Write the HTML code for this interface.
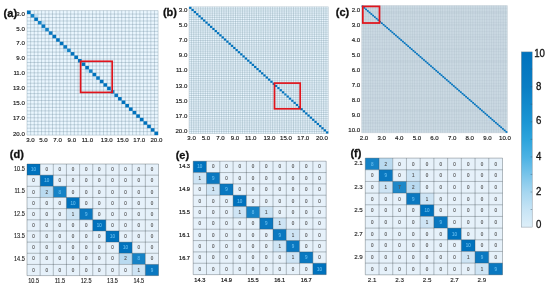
<!DOCTYPE html>
<html><head><meta charset="utf-8"><title>figure</title>
<style>html,body{margin:0;padding:0;background:#fff}svg{display:block;font-family:'Liberation Sans', Arial, sans-serif}</style>
</head><body>
<svg width="550" height="288" viewBox="0 0 550 288">
<rect width="550" height="288" fill="#fff"/>
<rect x="27.00" y="10.60" width="131.10" height="124.50" fill="#eaf6fe"/>
<path d="M27.00 10.60V135.10M30.64 10.60V135.10M34.28 10.60V135.10M37.92 10.60V135.10M41.57 10.60V135.10M45.21 10.60V135.10M48.85 10.60V135.10M52.49 10.60V135.10M56.13 10.60V135.10M59.77 10.60V135.10M63.42 10.60V135.10M67.06 10.60V135.10M70.70 10.60V135.10M74.34 10.60V135.10M77.98 10.60V135.10M81.62 10.60V135.10M85.27 10.60V135.10M88.91 10.60V135.10M92.55 10.60V135.10M96.19 10.60V135.10M99.83 10.60V135.10M103.47 10.60V135.10M107.12 10.60V135.10M110.76 10.60V135.10M114.40 10.60V135.10M118.04 10.60V135.10M121.68 10.60V135.10M125.33 10.60V135.10M128.97 10.60V135.10M132.61 10.60V135.10M136.25 10.60V135.10M139.89 10.60V135.10M143.53 10.60V135.10M147.18 10.60V135.10M150.82 10.60V135.10M154.46 10.60V135.10M158.10 10.60V135.10" stroke="rgba(85,120,140,0.35)" stroke-width="0.78" fill="none"/>
<path d="M27.00 10.60H158.10M27.00 14.06H158.10M27.00 17.52H158.10M27.00 20.98H158.10M27.00 24.43H158.10M27.00 27.89H158.10M27.00 31.35H158.10M27.00 34.81H158.10M27.00 38.27H158.10M27.00 41.73H158.10M27.00 45.18H158.10M27.00 48.64H158.10M27.00 52.10H158.10M27.00 55.56H158.10M27.00 59.02H158.10M27.00 62.48H158.10M27.00 65.93H158.10M27.00 69.39H158.10M27.00 72.85H158.10M27.00 76.31H158.10M27.00 79.77H158.10M27.00 83.22H158.10M27.00 86.68H158.10M27.00 90.14H158.10M27.00 93.60H158.10M27.00 97.06H158.10M27.00 100.52H158.10M27.00 103.97H158.10M27.00 107.43H158.10M27.00 110.89H158.10M27.00 114.35H158.10M27.00 117.81H158.10M27.00 121.27H158.10M27.00 124.72H158.10M27.00 128.18H158.10M27.00 131.64H158.10M27.00 135.10H158.10" stroke="rgba(85,120,140,0.35)" stroke-width="0.78" fill="none"/>
<rect x="34.28" y="14.06" width="3.64" height="3.46" fill="#b9daf0" fill-opacity="0.8"/>
<rect x="41.57" y="20.98" width="3.64" height="3.46" fill="#b9daf0" fill-opacity="0.8"/>
<rect x="41.57" y="27.89" width="3.64" height="3.46" fill="#b9daf0" fill-opacity="0.8"/>
<rect x="56.13" y="31.35" width="3.64" height="3.46" fill="#cee4f4" fill-opacity="0.8"/>
<rect x="63.42" y="48.64" width="3.64" height="3.46" fill="#b9daf0" fill-opacity="0.8"/>
<rect x="85.27" y="69.39" width="3.64" height="3.46" fill="#b9daf0" fill-opacity="0.8"/>
<rect x="92.55" y="76.31" width="3.64" height="3.46" fill="#cee4f4" fill-opacity="0.8"/>
<rect x="107.12" y="90.14" width="3.64" height="3.46" fill="#b9daf0" fill-opacity="0.8"/>
<rect x="110.76" y="93.60" width="3.64" height="3.46" fill="#cee4f4" fill-opacity="0.8"/>
<rect x="27.00" y="10.60" width="3.64" height="3.46" fill="#0072bd"/>
<rect x="30.64" y="14.06" width="3.64" height="3.46" fill="#1683c6"/>
<rect x="34.28" y="17.52" width="3.64" height="3.46" fill="#0072bd"/>
<rect x="37.92" y="20.98" width="3.64" height="3.46" fill="#1683c6"/>
<rect x="41.57" y="24.43" width="3.64" height="3.46" fill="#0a78c0"/>
<rect x="45.21" y="27.89" width="3.64" height="3.46" fill="#1683c6"/>
<rect x="48.85" y="31.35" width="3.64" height="3.46" fill="#0a78c0"/>
<rect x="52.49" y="34.81" width="3.64" height="3.46" fill="#0072bd"/>
<rect x="56.13" y="38.27" width="3.64" height="3.46" fill="#0072bd"/>
<rect x="59.77" y="41.73" width="3.64" height="3.46" fill="#0072bd"/>
<rect x="63.42" y="45.18" width="3.64" height="3.46" fill="#0a78c0"/>
<rect x="67.06" y="48.64" width="3.64" height="3.46" fill="#1683c6"/>
<rect x="70.70" y="52.10" width="3.64" height="3.46" fill="#0072bd"/>
<rect x="74.34" y="55.56" width="3.64" height="3.46" fill="#0072bd"/>
<rect x="77.98" y="59.02" width="3.64" height="3.46" fill="#0072bd"/>
<rect x="81.62" y="62.48" width="3.64" height="3.46" fill="#0072bd"/>
<rect x="85.27" y="65.93" width="3.64" height="3.46" fill="#0072bd"/>
<rect x="88.91" y="69.39" width="3.64" height="3.46" fill="#1683c6"/>
<rect x="92.55" y="72.85" width="3.64" height="3.46" fill="#0072bd"/>
<rect x="96.19" y="76.31" width="3.64" height="3.46" fill="#0a78c0"/>
<rect x="99.83" y="79.77" width="3.64" height="3.46" fill="#0072bd"/>
<rect x="103.47" y="83.22" width="3.64" height="3.46" fill="#0072bd"/>
<rect x="107.12" y="86.68" width="3.64" height="3.46" fill="#0072bd"/>
<rect x="110.76" y="90.14" width="3.64" height="3.46" fill="#1683c6"/>
<rect x="114.40" y="93.60" width="3.64" height="3.46" fill="#0a78c0"/>
<rect x="118.04" y="97.06" width="3.64" height="3.46" fill="#0072bd"/>
<rect x="121.68" y="100.52" width="3.64" height="3.46" fill="#0072bd"/>
<rect x="125.33" y="103.97" width="3.64" height="3.46" fill="#0072bd"/>
<rect x="128.97" y="107.43" width="3.64" height="3.46" fill="#0072bd"/>
<rect x="132.61" y="110.89" width="3.64" height="3.46" fill="#0072bd"/>
<rect x="136.25" y="114.35" width="3.64" height="3.46" fill="#0072bd"/>
<rect x="139.89" y="117.81" width="3.64" height="3.46" fill="#0072bd"/>
<rect x="143.53" y="121.27" width="3.64" height="3.46" fill="#0072bd"/>
<rect x="147.18" y="124.72" width="3.64" height="3.46" fill="#0072bd"/>
<rect x="150.82" y="128.18" width="3.64" height="3.46" fill="#0072bd"/>
<rect x="154.46" y="131.64" width="3.64" height="3.46" fill="#0072bd"/>
<rect x="80.6" y="61.3" width="31.60000000000001" height="31.10000000000001" fill="none" stroke="#e0141c" stroke-width="1.7"/>
<text x="24.80" y="16.28" font-size="6.1" text-anchor="end" fill="#1a1a1a" stroke="#1a1a1a" stroke-width="0.16">3.0</text>
<text x="24.80" y="30.58" font-size="6.1" text-anchor="end" fill="#1a1a1a" stroke="#1a1a1a" stroke-width="0.16">5.0</text>
<text x="24.80" y="45.18" font-size="6.1" text-anchor="end" fill="#1a1a1a" stroke="#1a1a1a" stroke-width="0.16">7.0</text>
<text x="24.80" y="60.18" font-size="6.1" text-anchor="end" fill="#1a1a1a" stroke="#1a1a1a" stroke-width="0.16">9.0</text>
<text x="24.80" y="75.18" font-size="6.1" text-anchor="end" fill="#1a1a1a" stroke="#1a1a1a" stroke-width="0.16">11.0</text>
<text x="24.80" y="89.98" font-size="6.1" text-anchor="end" fill="#1a1a1a" stroke="#1a1a1a" stroke-width="0.16">13.0</text>
<text x="24.80" y="105.38" font-size="6.1" text-anchor="end" fill="#1a1a1a" stroke="#1a1a1a" stroke-width="0.16">15.0</text>
<text x="24.80" y="120.18" font-size="6.1" text-anchor="end" fill="#1a1a1a" stroke="#1a1a1a" stroke-width="0.16">17.0</text>
<text x="24.80" y="135.58" font-size="6.1" text-anchor="end" fill="#1a1a1a" stroke="#1a1a1a" stroke-width="0.16">20.0</text>
<text x="30.40" y="141.88" font-size="6.1" text-anchor="middle" fill="#1a1a1a" stroke="#1a1a1a" stroke-width="0.16">3.0</text>
<text x="43.50" y="141.88" font-size="6.1" text-anchor="middle" fill="#1a1a1a" stroke="#1a1a1a" stroke-width="0.16">5.0</text>
<text x="57.60" y="141.88" font-size="6.1" text-anchor="middle" fill="#1a1a1a" stroke="#1a1a1a" stroke-width="0.16">7.0</text>
<text x="71.80" y="141.88" font-size="6.1" text-anchor="middle" fill="#1a1a1a" stroke="#1a1a1a" stroke-width="0.16">9.0</text>
<text x="87.40" y="141.88" font-size="6.1" text-anchor="middle" fill="#1a1a1a" stroke="#1a1a1a" stroke-width="0.16">11.0</text>
<text x="106.70" y="141.88" font-size="6.1" text-anchor="middle" fill="#1a1a1a" stroke="#1a1a1a" stroke-width="0.16">13.0</text>
<text x="122.80" y="141.88" font-size="6.1" text-anchor="middle" fill="#1a1a1a" stroke="#1a1a1a" stroke-width="0.16">15.0</text>
<text x="139.20" y="141.88" font-size="6.1" text-anchor="middle" fill="#1a1a1a" stroke="#1a1a1a" stroke-width="0.16">17.0</text>
<text x="156.40" y="141.88" font-size="6.1" text-anchor="middle" fill="#1a1a1a" stroke="#1a1a1a" stroke-width="0.16">20.0</text>
<rect x="189.10" y="6.80" width="139.20" height="126.70" fill="#eaf6fe"/>
<path d="M189.10 6.80V133.50M191.42 6.80V133.50M193.74 6.80V133.50M196.06 6.80V133.50M198.38 6.80V133.50M200.70 6.80V133.50M203.02 6.80V133.50M205.34 6.80V133.50M207.66 6.80V133.50M209.98 6.80V133.50M212.30 6.80V133.50M214.62 6.80V133.50M216.94 6.80V133.50M219.26 6.80V133.50M221.58 6.80V133.50M223.90 6.80V133.50M226.22 6.80V133.50M228.54 6.80V133.50M230.86 6.80V133.50M233.18 6.80V133.50M235.50 6.80V133.50M237.82 6.80V133.50M240.14 6.80V133.50M242.46 6.80V133.50M244.78 6.80V133.50M247.10 6.80V133.50M249.42 6.80V133.50M251.74 6.80V133.50M254.06 6.80V133.50M256.38 6.80V133.50M258.70 6.80V133.50M261.02 6.80V133.50M263.34 6.80V133.50M265.66 6.80V133.50M267.98 6.80V133.50M270.30 6.80V133.50M272.62 6.80V133.50M274.94 6.80V133.50M277.26 6.80V133.50M279.58 6.80V133.50M281.90 6.80V133.50M284.22 6.80V133.50M286.54 6.80V133.50M288.86 6.80V133.50M291.18 6.80V133.50M293.50 6.80V133.50M295.82 6.80V133.50M298.14 6.80V133.50M300.46 6.80V133.50M302.78 6.80V133.50M305.10 6.80V133.50M307.42 6.80V133.50M309.74 6.80V133.50M312.06 6.80V133.50M314.38 6.80V133.50M316.70 6.80V133.50M319.02 6.80V133.50M321.34 6.80V133.50M323.66 6.80V133.50M325.98 6.80V133.50M328.30 6.80V133.50" stroke="rgba(85,120,140,0.32)" stroke-width="0.75" fill="none"/>
<path d="M189.10 6.80H328.30M189.10 8.91H328.30M189.10 11.02H328.30M189.10 13.14H328.30M189.10 15.25H328.30M189.10 17.36H328.30M189.10 19.47H328.30M189.10 21.58H328.30M189.10 23.69H328.30M189.10 25.81H328.30M189.10 27.92H328.30M189.10 30.03H328.30M189.10 32.14H328.30M189.10 34.25H328.30M189.10 36.36H328.30M189.10 38.48H328.30M189.10 40.59H328.30M189.10 42.70H328.30M189.10 44.81H328.30M189.10 46.92H328.30M189.10 49.03H328.30M189.10 51.15H328.30M189.10 53.26H328.30M189.10 55.37H328.30M189.10 57.48H328.30M189.10 59.59H328.30M189.10 61.70H328.30M189.10 63.81H328.30M189.10 65.93H328.30M189.10 68.04H328.30M189.10 70.15H328.30M189.10 72.26H328.30M189.10 74.37H328.30M189.10 76.48H328.30M189.10 78.60H328.30M189.10 80.71H328.30M189.10 82.82H328.30M189.10 84.93H328.30M189.10 87.04H328.30M189.10 89.16H328.30M189.10 91.27H328.30M189.10 93.38H328.30M189.10 95.49H328.30M189.10 97.60H328.30M189.10 99.71H328.30M189.10 101.83H328.30M189.10 103.94H328.30M189.10 106.05H328.30M189.10 108.16H328.30M189.10 110.27H328.30M189.10 112.38H328.30M189.10 114.50H328.30M189.10 116.61H328.30M189.10 118.72H328.30M189.10 120.83H328.30M189.10 122.94H328.30M189.10 125.05H328.30M189.10 127.17H328.30M189.10 129.28H328.30M189.10 131.39H328.30M189.10 133.50H328.30" stroke="rgba(85,120,140,0.32)" stroke-width="0.75" fill="none"/>
<rect x="274.94" y="87.04" width="2.32" height="2.11" fill="#cee4f4" fill-opacity="0.8"/>
<rect x="277.26" y="89.16" width="2.32" height="2.11" fill="#cee4f4" fill-opacity="0.8"/>
<rect x="281.90" y="93.38" width="2.32" height="2.11" fill="#cee4f4" fill-opacity="0.8"/>
<rect x="286.54" y="93.38" width="2.32" height="2.11" fill="#cee4f4" fill-opacity="0.8"/>
<rect x="288.86" y="95.49" width="2.32" height="2.11" fill="#cee4f4" fill-opacity="0.8"/>
<rect x="291.18" y="97.60" width="2.32" height="2.11" fill="#cee4f4" fill-opacity="0.8"/>
<rect x="288.86" y="99.71" width="2.32" height="2.11" fill="#cee4f4" fill-opacity="0.8"/>
<rect x="291.18" y="101.83" width="2.32" height="2.11" fill="#cee4f4" fill-opacity="0.8"/>
<rect x="189.10" y="6.80" width="2.32" height="2.11" fill="#0072bd"/>
<rect x="191.42" y="8.91" width="2.32" height="2.11" fill="#0072bd"/>
<rect x="193.74" y="11.02" width="2.32" height="2.11" fill="#0072bd"/>
<rect x="196.06" y="13.14" width="2.32" height="2.11" fill="#0072bd"/>
<rect x="198.38" y="15.25" width="2.32" height="2.11" fill="#0072bd"/>
<rect x="200.70" y="17.36" width="2.32" height="2.11" fill="#0072bd"/>
<rect x="203.02" y="19.47" width="2.32" height="2.11" fill="#0072bd"/>
<rect x="205.34" y="21.58" width="2.32" height="2.11" fill="#0072bd"/>
<rect x="207.66" y="23.69" width="2.32" height="2.11" fill="#0072bd"/>
<rect x="209.98" y="25.81" width="2.32" height="2.11" fill="#0072bd"/>
<rect x="212.30" y="27.92" width="2.32" height="2.11" fill="#0072bd"/>
<rect x="214.62" y="30.03" width="2.32" height="2.11" fill="#0072bd"/>
<rect x="216.94" y="32.14" width="2.32" height="2.11" fill="#0072bd"/>
<rect x="219.26" y="34.25" width="2.32" height="2.11" fill="#0072bd"/>
<rect x="221.58" y="36.36" width="2.32" height="2.11" fill="#0072bd"/>
<rect x="223.90" y="38.48" width="2.32" height="2.11" fill="#0072bd"/>
<rect x="226.22" y="40.59" width="2.32" height="2.11" fill="#0072bd"/>
<rect x="228.54" y="42.70" width="2.32" height="2.11" fill="#0072bd"/>
<rect x="230.86" y="44.81" width="2.32" height="2.11" fill="#0072bd"/>
<rect x="233.18" y="46.92" width="2.32" height="2.11" fill="#0072bd"/>
<rect x="235.50" y="49.03" width="2.32" height="2.11" fill="#0072bd"/>
<rect x="237.82" y="51.15" width="2.32" height="2.11" fill="#0072bd"/>
<rect x="240.14" y="53.26" width="2.32" height="2.11" fill="#0072bd"/>
<rect x="242.46" y="55.37" width="2.32" height="2.11" fill="#0072bd"/>
<rect x="244.78" y="57.48" width="2.32" height="2.11" fill="#0072bd"/>
<rect x="247.10" y="59.59" width="2.32" height="2.11" fill="#0072bd"/>
<rect x="249.42" y="61.70" width="2.32" height="2.11" fill="#0072bd"/>
<rect x="251.74" y="63.81" width="2.32" height="2.11" fill="#0072bd"/>
<rect x="254.06" y="65.93" width="2.32" height="2.11" fill="#0072bd"/>
<rect x="256.38" y="68.04" width="2.32" height="2.11" fill="#0072bd"/>
<rect x="258.70" y="70.15" width="2.32" height="2.11" fill="#0072bd"/>
<rect x="261.02" y="72.26" width="2.32" height="2.11" fill="#0072bd"/>
<rect x="263.34" y="74.37" width="2.32" height="2.11" fill="#0072bd"/>
<rect x="265.66" y="76.48" width="2.32" height="2.11" fill="#0072bd"/>
<rect x="267.98" y="78.60" width="2.32" height="2.11" fill="#0072bd"/>
<rect x="270.30" y="80.71" width="2.32" height="2.11" fill="#0072bd"/>
<rect x="272.62" y="82.82" width="2.32" height="2.11" fill="#0072bd"/>
<rect x="274.94" y="84.93" width="2.32" height="2.11" fill="#0072bd"/>
<rect x="277.26" y="87.04" width="2.32" height="2.11" fill="#0a78c0"/>
<rect x="279.58" y="89.16" width="2.32" height="2.11" fill="#0a78c0"/>
<rect x="281.90" y="91.27" width="2.32" height="2.11" fill="#0072bd"/>
<rect x="284.22" y="93.38" width="2.32" height="2.11" fill="#1683c6"/>
<rect x="286.54" y="95.49" width="2.32" height="2.11" fill="#0a78c0"/>
<rect x="288.86" y="97.60" width="2.32" height="2.11" fill="#0a78c0"/>
<rect x="291.18" y="99.71" width="2.32" height="2.11" fill="#0a78c0"/>
<rect x="293.50" y="101.83" width="2.32" height="2.11" fill="#0a78c0"/>
<rect x="295.82" y="103.94" width="2.32" height="2.11" fill="#0072bd"/>
<rect x="298.14" y="106.05" width="2.32" height="2.11" fill="#0072bd"/>
<rect x="300.46" y="108.16" width="2.32" height="2.11" fill="#0072bd"/>
<rect x="302.78" y="110.27" width="2.32" height="2.11" fill="#0072bd"/>
<rect x="305.10" y="112.38" width="2.32" height="2.11" fill="#0072bd"/>
<rect x="307.42" y="114.50" width="2.32" height="2.11" fill="#0072bd"/>
<rect x="309.74" y="116.61" width="2.32" height="2.11" fill="#0072bd"/>
<rect x="312.06" y="118.72" width="2.32" height="2.11" fill="#0072bd"/>
<rect x="314.38" y="120.83" width="2.32" height="2.11" fill="#0072bd"/>
<rect x="316.70" y="122.94" width="2.32" height="2.11" fill="#0072bd"/>
<rect x="319.02" y="125.05" width="2.32" height="2.11" fill="#0072bd"/>
<rect x="321.34" y="127.17" width="2.32" height="2.11" fill="#0072bd"/>
<rect x="323.66" y="129.28" width="2.32" height="2.11" fill="#0072bd"/>
<rect x="325.98" y="131.39" width="2.32" height="2.11" fill="#0072bd"/>
<rect x="274.5" y="83.1" width="25.69999999999999" height="25.700000000000003" fill="none" stroke="#e0141c" stroke-width="1.7"/>
<text x="187.30" y="11.78" font-size="6.1" text-anchor="end" fill="#1a1a1a" stroke="#1a1a1a" stroke-width="0.16">3.0</text>
<text x="187.30" y="26.98" font-size="6.1" text-anchor="end" fill="#1a1a1a" stroke="#1a1a1a" stroke-width="0.16">5.0</text>
<text x="187.30" y="41.98" font-size="6.1" text-anchor="end" fill="#1a1a1a" stroke="#1a1a1a" stroke-width="0.16">7.0</text>
<text x="187.30" y="57.18" font-size="6.1" text-anchor="end" fill="#1a1a1a" stroke="#1a1a1a" stroke-width="0.16">9.0</text>
<text x="187.30" y="72.38" font-size="6.1" text-anchor="end" fill="#1a1a1a" stroke="#1a1a1a" stroke-width="0.16">11.0</text>
<text x="187.30" y="87.68" font-size="6.1" text-anchor="end" fill="#1a1a1a" stroke="#1a1a1a" stroke-width="0.16">13.0</text>
<text x="187.30" y="102.98" font-size="6.1" text-anchor="end" fill="#1a1a1a" stroke="#1a1a1a" stroke-width="0.16">15.0</text>
<text x="187.30" y="118.38" font-size="6.1" text-anchor="end" fill="#1a1a1a" stroke="#1a1a1a" stroke-width="0.16">17.0</text>
<text x="187.30" y="133.28" font-size="6.1" text-anchor="end" fill="#1a1a1a" stroke="#1a1a1a" stroke-width="0.16">20.0</text>
<text x="191.60" y="140.48" font-size="6.1" text-anchor="middle" fill="#1a1a1a" stroke="#1a1a1a" stroke-width="0.16">3.0</text>
<text x="205.90" y="140.48" font-size="6.1" text-anchor="middle" fill="#1a1a1a" stroke="#1a1a1a" stroke-width="0.16">5.0</text>
<text x="220.50" y="140.48" font-size="6.1" text-anchor="middle" fill="#1a1a1a" stroke="#1a1a1a" stroke-width="0.16">7.0</text>
<text x="235.00" y="140.48" font-size="6.1" text-anchor="middle" fill="#1a1a1a" stroke="#1a1a1a" stroke-width="0.16">9.0</text>
<text x="250.80" y="140.48" font-size="6.1" text-anchor="middle" fill="#1a1a1a" stroke="#1a1a1a" stroke-width="0.16">11.0</text>
<text x="269.40" y="140.48" font-size="6.1" text-anchor="middle" fill="#1a1a1a" stroke="#1a1a1a" stroke-width="0.16">13.0</text>
<text x="286.00" y="140.48" font-size="6.1" text-anchor="middle" fill="#1a1a1a" stroke="#1a1a1a" stroke-width="0.16">15.0</text>
<text x="303.30" y="140.48" font-size="6.1" text-anchor="middle" fill="#1a1a1a" stroke="#1a1a1a" stroke-width="0.16">17.0</text>
<text x="322.00" y="140.48" font-size="6.1" text-anchor="middle" fill="#1a1a1a" stroke="#1a1a1a" stroke-width="0.16">20.0</text>
<rect x="361.70" y="5.60" width="145.60" height="127.10" fill="#e8f4fc"/>
<path d="M361.70 5.60V132.70M363.45 5.60V132.70M365.21 5.60V132.70M366.96 5.60V132.70M368.72 5.60V132.70M370.47 5.60V132.70M372.23 5.60V132.70M373.98 5.60V132.70M375.73 5.60V132.70M377.49 5.60V132.70M379.24 5.60V132.70M381.00 5.60V132.70M382.75 5.60V132.70M384.50 5.60V132.70M386.26 5.60V132.70M388.01 5.60V132.70M389.77 5.60V132.70M391.52 5.60V132.70M393.28 5.60V132.70M395.03 5.60V132.70M396.78 5.60V132.70M398.54 5.60V132.70M400.29 5.60V132.70M402.05 5.60V132.70M403.80 5.60V132.70M405.56 5.60V132.70M407.31 5.60V132.70M409.06 5.60V132.70M410.82 5.60V132.70M412.57 5.60V132.70M414.33 5.60V132.70M416.08 5.60V132.70M417.83 5.60V132.70M419.59 5.60V132.70M421.34 5.60V132.70M423.10 5.60V132.70M424.85 5.60V132.70M426.61 5.60V132.70M428.36 5.60V132.70M430.11 5.60V132.70M431.87 5.60V132.70M433.62 5.60V132.70M435.38 5.60V132.70M437.13 5.60V132.70M438.89 5.60V132.70M440.64 5.60V132.70M442.39 5.60V132.70M444.15 5.60V132.70M445.90 5.60V132.70M447.66 5.60V132.70M449.41 5.60V132.70M451.17 5.60V132.70M452.92 5.60V132.70M454.67 5.60V132.70M456.43 5.60V132.70M458.18 5.60V132.70M459.94 5.60V132.70M461.69 5.60V132.70M463.44 5.60V132.70M465.20 5.60V132.70M466.95 5.60V132.70M468.71 5.60V132.70M470.46 5.60V132.70M472.22 5.60V132.70M473.97 5.60V132.70M475.72 5.60V132.70M477.48 5.60V132.70M479.23 5.60V132.70M480.99 5.60V132.70M482.74 5.60V132.70M484.50 5.60V132.70M486.25 5.60V132.70M488.00 5.60V132.70M489.76 5.60V132.70M491.51 5.60V132.70M493.27 5.60V132.70M495.02 5.60V132.70M496.77 5.60V132.70M498.53 5.60V132.70M500.28 5.60V132.70M502.04 5.60V132.70M503.79 5.60V132.70M505.55 5.60V132.70M507.30 5.60V132.70" stroke="rgba(100,122,140,0.18)" stroke-width="1.3" fill="none"/>
<path d="M361.70 5.60H507.30M361.70 7.13H507.30M361.70 8.66H507.30M361.70 10.19H507.30M361.70 11.73H507.30M361.70 13.26H507.30M361.70 14.79H507.30M361.70 16.32H507.30M361.70 17.85H507.30M361.70 19.38H507.30M361.70 20.91H507.30M361.70 22.44H507.30M361.70 23.98H507.30M361.70 25.51H507.30M361.70 27.04H507.30M361.70 28.57H507.30M361.70 30.10H507.30M361.70 31.63H507.30M361.70 33.16H507.30M361.70 34.70H507.30M361.70 36.23H507.30M361.70 37.76H507.30M361.70 39.29H507.30M361.70 40.82H507.30M361.70 42.35H507.30M361.70 43.88H507.30M361.70 45.41H507.30M361.70 46.95H507.30M361.70 48.48H507.30M361.70 50.01H507.30M361.70 51.54H507.30M361.70 53.07H507.30M361.70 54.60H507.30M361.70 56.13H507.30M361.70 57.67H507.30M361.70 59.20H507.30M361.70 60.73H507.30M361.70 62.26H507.30M361.70 63.79H507.30M361.70 65.32H507.30M361.70 66.85H507.30M361.70 68.38H507.30M361.70 69.92H507.30M361.70 71.45H507.30M361.70 72.98H507.30M361.70 74.51H507.30M361.70 76.04H507.30M361.70 77.57H507.30M361.70 79.10H507.30M361.70 80.63H507.30M361.70 82.17H507.30M361.70 83.70H507.30M361.70 85.23H507.30M361.70 86.76H507.30M361.70 88.29H507.30M361.70 89.82H507.30M361.70 91.35H507.30M361.70 92.89H507.30M361.70 94.42H507.30M361.70 95.95H507.30M361.70 97.48H507.30M361.70 99.01H507.30M361.70 100.54H507.30M361.70 102.07H507.30M361.70 103.60H507.30M361.70 105.14H507.30M361.70 106.67H507.30M361.70 108.20H507.30M361.70 109.73H507.30M361.70 111.26H507.30M361.70 112.79H507.30M361.70 114.32H507.30M361.70 115.86H507.30M361.70 117.39H507.30M361.70 118.92H507.30M361.70 120.45H507.30M361.70 121.98H507.30M361.70 123.51H507.30M361.70 125.04H507.30M361.70 126.57H507.30M361.70 128.11H507.30M361.70 129.64H507.30M361.70 131.17H507.30M361.70 132.70H507.30" stroke="rgba(100,122,140,0.18)" stroke-width="1.3" fill="none"/>
<rect x="410.82" y="45.41" width="1.75" height="1.53" fill="#b9daf0" fill-opacity="0.8"/>
<rect x="421.34" y="54.60" width="1.75" height="1.53" fill="#b9daf0" fill-opacity="0.8"/>
<rect x="435.38" y="66.85" width="1.75" height="1.53" fill="#b9daf0" fill-opacity="0.8"/>
<rect x="440.64" y="72.98" width="1.75" height="1.53" fill="#b9daf0" fill-opacity="0.8"/>
<rect x="488.00" y="118.92" width="1.75" height="1.53" fill="#b9daf0" fill-opacity="0.8"/>
<rect x="461.69" y="91.35" width="1.75" height="1.53" fill="#cee4f4" fill-opacity="0.8"/>
<rect x="470.46" y="102.07" width="1.75" height="1.53" fill="#cee4f4" fill-opacity="0.8"/>
<rect x="361.70" y="5.60" width="1.75" height="1.53" fill="#0072bd"/>
<rect x="363.45" y="7.13" width="1.75" height="1.53" fill="#0072bd"/>
<rect x="365.21" y="8.66" width="1.75" height="1.53" fill="#0072bd"/>
<rect x="366.96" y="10.19" width="1.75" height="1.53" fill="#0072bd"/>
<rect x="368.72" y="11.73" width="1.75" height="1.53" fill="#0072bd"/>
<rect x="370.47" y="13.26" width="1.75" height="1.53" fill="#0072bd"/>
<rect x="372.23" y="14.79" width="1.75" height="1.53" fill="#0072bd"/>
<rect x="373.98" y="16.32" width="1.75" height="1.53" fill="#0072bd"/>
<rect x="375.73" y="17.85" width="1.75" height="1.53" fill="#0072bd"/>
<rect x="377.49" y="19.38" width="1.75" height="1.53" fill="#0072bd"/>
<rect x="379.24" y="20.91" width="1.75" height="1.53" fill="#0072bd"/>
<rect x="381.00" y="22.44" width="1.75" height="1.53" fill="#0072bd"/>
<rect x="382.75" y="23.98" width="1.75" height="1.53" fill="#0072bd"/>
<rect x="384.50" y="25.51" width="1.75" height="1.53" fill="#0072bd"/>
<rect x="386.26" y="27.04" width="1.75" height="1.53" fill="#0072bd"/>
<rect x="388.01" y="28.57" width="1.75" height="1.53" fill="#0072bd"/>
<rect x="389.77" y="30.10" width="1.75" height="1.53" fill="#0072bd"/>
<rect x="391.52" y="31.63" width="1.75" height="1.53" fill="#0072bd"/>
<rect x="393.28" y="33.16" width="1.75" height="1.53" fill="#0072bd"/>
<rect x="395.03" y="34.70" width="1.75" height="1.53" fill="#0072bd"/>
<rect x="396.78" y="36.23" width="1.75" height="1.53" fill="#0072bd"/>
<rect x="398.54" y="37.76" width="1.75" height="1.53" fill="#0072bd"/>
<rect x="400.29" y="39.29" width="1.75" height="1.53" fill="#0072bd"/>
<rect x="402.05" y="40.82" width="1.75" height="1.53" fill="#0072bd"/>
<rect x="403.80" y="42.35" width="1.75" height="1.53" fill="#0072bd"/>
<rect x="405.56" y="43.88" width="1.75" height="1.53" fill="#0072bd"/>
<rect x="407.31" y="45.41" width="1.75" height="1.53" fill="#0072bd"/>
<rect x="409.06" y="46.95" width="1.75" height="1.53" fill="#0072bd"/>
<rect x="410.82" y="48.48" width="1.75" height="1.53" fill="#0072bd"/>
<rect x="412.57" y="50.01" width="1.75" height="1.53" fill="#0072bd"/>
<rect x="414.33" y="51.54" width="1.75" height="1.53" fill="#0072bd"/>
<rect x="416.08" y="53.07" width="1.75" height="1.53" fill="#0072bd"/>
<rect x="417.83" y="54.60" width="1.75" height="1.53" fill="#0072bd"/>
<rect x="419.59" y="56.13" width="1.75" height="1.53" fill="#0072bd"/>
<rect x="421.34" y="57.67" width="1.75" height="1.53" fill="#0072bd"/>
<rect x="423.10" y="59.20" width="1.75" height="1.53" fill="#0072bd"/>
<rect x="424.85" y="60.73" width="1.75" height="1.53" fill="#0072bd"/>
<rect x="426.61" y="62.26" width="1.75" height="1.53" fill="#0072bd"/>
<rect x="428.36" y="63.79" width="1.75" height="1.53" fill="#0072bd"/>
<rect x="430.11" y="65.32" width="1.75" height="1.53" fill="#0072bd"/>
<rect x="431.87" y="66.85" width="1.75" height="1.53" fill="#0072bd"/>
<rect x="433.62" y="68.38" width="1.75" height="1.53" fill="#0072bd"/>
<rect x="435.38" y="69.92" width="1.75" height="1.53" fill="#0072bd"/>
<rect x="437.13" y="71.45" width="1.75" height="1.53" fill="#0072bd"/>
<rect x="438.89" y="72.98" width="1.75" height="1.53" fill="#0072bd"/>
<rect x="440.64" y="74.51" width="1.75" height="1.53" fill="#0072bd"/>
<rect x="442.39" y="76.04" width="1.75" height="1.53" fill="#0072bd"/>
<rect x="444.15" y="77.57" width="1.75" height="1.53" fill="#0072bd"/>
<rect x="445.90" y="79.10" width="1.75" height="1.53" fill="#0072bd"/>
<rect x="447.66" y="80.63" width="1.75" height="1.53" fill="#0072bd"/>
<rect x="449.41" y="82.17" width="1.75" height="1.53" fill="#0072bd"/>
<rect x="451.17" y="83.70" width="1.75" height="1.53" fill="#0072bd"/>
<rect x="452.92" y="85.23" width="1.75" height="1.53" fill="#0072bd"/>
<rect x="454.67" y="86.76" width="1.75" height="1.53" fill="#0072bd"/>
<rect x="456.43" y="88.29" width="1.75" height="1.53" fill="#0072bd"/>
<rect x="458.18" y="89.82" width="1.75" height="1.53" fill="#0072bd"/>
<rect x="459.94" y="91.35" width="1.75" height="1.53" fill="#0072bd"/>
<rect x="461.69" y="92.89" width="1.75" height="1.53" fill="#0072bd"/>
<rect x="463.44" y="94.42" width="1.75" height="1.53" fill="#0072bd"/>
<rect x="465.20" y="95.95" width="1.75" height="1.53" fill="#0072bd"/>
<rect x="466.95" y="97.48" width="1.75" height="1.53" fill="#0072bd"/>
<rect x="468.71" y="99.01" width="1.75" height="1.53" fill="#0072bd"/>
<rect x="470.46" y="100.54" width="1.75" height="1.53" fill="#0072bd"/>
<rect x="472.22" y="102.07" width="1.75" height="1.53" fill="#0072bd"/>
<rect x="473.97" y="103.60" width="1.75" height="1.53" fill="#0072bd"/>
<rect x="475.72" y="105.14" width="1.75" height="1.53" fill="#0072bd"/>
<rect x="477.48" y="106.67" width="1.75" height="1.53" fill="#0072bd"/>
<rect x="479.23" y="108.20" width="1.75" height="1.53" fill="#0072bd"/>
<rect x="480.99" y="109.73" width="1.75" height="1.53" fill="#0072bd"/>
<rect x="482.74" y="111.26" width="1.75" height="1.53" fill="#0072bd"/>
<rect x="484.50" y="112.79" width="1.75" height="1.53" fill="#0072bd"/>
<rect x="486.25" y="114.32" width="1.75" height="1.53" fill="#0072bd"/>
<rect x="488.00" y="115.86" width="1.75" height="1.53" fill="#0072bd"/>
<rect x="489.76" y="117.39" width="1.75" height="1.53" fill="#0072bd"/>
<rect x="491.51" y="118.92" width="1.75" height="1.53" fill="#0072bd"/>
<rect x="493.27" y="120.45" width="1.75" height="1.53" fill="#0072bd"/>
<rect x="495.02" y="121.98" width="1.75" height="1.53" fill="#0072bd"/>
<rect x="496.77" y="123.51" width="1.75" height="1.53" fill="#0072bd"/>
<rect x="498.53" y="125.04" width="1.75" height="1.53" fill="#0072bd"/>
<rect x="500.28" y="126.57" width="1.75" height="1.53" fill="#0072bd"/>
<rect x="502.04" y="128.11" width="1.75" height="1.53" fill="#0072bd"/>
<rect x="503.79" y="129.64" width="1.75" height="1.53" fill="#0072bd"/>
<rect x="505.55" y="131.17" width="1.75" height="1.53" fill="#0072bd"/>
<path d="M361.70 5.60L507.30 132.70" stroke="#0072bd" stroke-width="1.2" stroke-opacity="0.4"/>
<rect x="362.8" y="6.4" width="16.69999999999999" height="16.6" fill="none" stroke="#e0141c" stroke-width="1.75"/>
<text x="360.20" y="11.68" font-size="6.1" text-anchor="end" fill="#1a1a1a" stroke="#1a1a1a" stroke-width="0.16">2.0</text>
<text x="360.20" y="26.77" font-size="6.1" text-anchor="end" fill="#1a1a1a" stroke="#1a1a1a" stroke-width="0.16">3.0</text>
<text x="360.20" y="41.86" font-size="6.1" text-anchor="end" fill="#1a1a1a" stroke="#1a1a1a" stroke-width="0.16">4.0</text>
<text x="360.20" y="56.95" font-size="6.1" text-anchor="end" fill="#1a1a1a" stroke="#1a1a1a" stroke-width="0.16">5.0</text>
<text x="360.20" y="72.04" font-size="6.1" text-anchor="end" fill="#1a1a1a" stroke="#1a1a1a" stroke-width="0.16">6.0</text>
<text x="360.20" y="87.13" font-size="6.1" text-anchor="end" fill="#1a1a1a" stroke="#1a1a1a" stroke-width="0.16">7.0</text>
<text x="360.20" y="102.22" font-size="6.1" text-anchor="end" fill="#1a1a1a" stroke="#1a1a1a" stroke-width="0.16">8.0</text>
<text x="360.20" y="117.31" font-size="6.1" text-anchor="end" fill="#1a1a1a" stroke="#1a1a1a" stroke-width="0.16">9.0</text>
<text x="360.20" y="132.40" font-size="6.1" text-anchor="end" fill="#1a1a1a" stroke="#1a1a1a" stroke-width="0.16">10.0</text>
<text x="364.00" y="140.18" font-size="6.1" text-anchor="middle" fill="#1a1a1a" stroke="#1a1a1a" stroke-width="0.16">2.0</text>
<text x="381.63" y="140.18" font-size="6.1" text-anchor="middle" fill="#1a1a1a" stroke="#1a1a1a" stroke-width="0.16">3.0</text>
<text x="399.26" y="140.18" font-size="6.1" text-anchor="middle" fill="#1a1a1a" stroke="#1a1a1a" stroke-width="0.16">4.0</text>
<text x="416.89" y="140.18" font-size="6.1" text-anchor="middle" fill="#1a1a1a" stroke="#1a1a1a" stroke-width="0.16">5.0</text>
<text x="434.52" y="140.18" font-size="6.1" text-anchor="middle" fill="#1a1a1a" stroke="#1a1a1a" stroke-width="0.16">6.0</text>
<text x="452.15" y="140.18" font-size="6.1" text-anchor="middle" fill="#1a1a1a" stroke="#1a1a1a" stroke-width="0.16">7.0</text>
<text x="469.78" y="140.18" font-size="6.1" text-anchor="middle" fill="#1a1a1a" stroke="#1a1a1a" stroke-width="0.16">8.0</text>
<text x="487.41" y="140.18" font-size="6.1" text-anchor="middle" fill="#1a1a1a" stroke="#1a1a1a" stroke-width="0.16">9.0</text>
<text x="505.04" y="140.18" font-size="6.1" text-anchor="middle" fill="#1a1a1a" stroke="#1a1a1a" stroke-width="0.16">10.0</text>
<defs><linearGradient id="cb" x1="0" y1="1" x2="0" y2="0"><stop offset="0" stop-color="rgb(222, 239, 249)"/><stop offset="0.1" stop-color="rgb(198, 228, 245)"/><stop offset="0.2" stop-color="rgb(165, 214, 240)"/><stop offset="0.3" stop-color="rgb(120, 196, 234)"/><stop offset="0.4" stop-color="rgb(75, 178, 228)"/><stop offset="0.5" stop-color="rgb(45, 164, 220)"/><stop offset="0.6" stop-color="rgb(27, 150, 212)"/><stop offset="0.7" stop-color="rgb(18, 138, 204)"/><stop offset="0.8" stop-color="rgb(10, 126, 196)"/><stop offset="1" stop-color="rgb(0, 114, 189)"/></linearGradient></defs>
<rect x="521.3" y="51.9" width="10.9" height="175.2" fill="url(#cb)" stroke="#7f8e99" stroke-width="0.45"/>
<path d="M530.6 209.5H532.2" stroke="#3d5566" stroke-width="0.45"/>
<path d="M530.6 192.0H532.2" stroke="#3d5566" stroke-width="0.45"/>
<path d="M530.6 174.4H532.2" stroke="#3d5566" stroke-width="0.45"/>
<path d="M530.6 156.9H532.2" stroke="#3d5566" stroke-width="0.45"/>
<path d="M530.6 139.3H532.2" stroke="#3d5566" stroke-width="0.45"/>
<path d="M530.6 121.8H532.2" stroke="#3d5566" stroke-width="0.45"/>
<path d="M530.6 104.2H532.2" stroke="#3d5566" stroke-width="0.45"/>
<path d="M530.6 86.7H532.2" stroke="#3d5566" stroke-width="0.45"/>
<path d="M530.6 69.1H532.2" stroke="#3d5566" stroke-width="0.45"/>
<text transform="translate(534.20 56.72) scale(0.93 1)" font-size="10.4" text-anchor="start" fill="#111" stroke="#111" stroke-width="0.3">10</text>
<text transform="translate(536.00 89.62) scale(0.93 1)" font-size="10.4" text-anchor="start" fill="#111" stroke="#111" stroke-width="0.3">8</text>
<text transform="translate(536.00 124.12) scale(0.93 1)" font-size="10.4" text-anchor="start" fill="#111" stroke="#111" stroke-width="0.3">6</text>
<text transform="translate(536.00 159.72) scale(0.93 1)" font-size="10.4" text-anchor="start" fill="#111" stroke="#111" stroke-width="0.3">4</text>
<text transform="translate(536.00 195.42) scale(0.93 1)" font-size="10.4" text-anchor="start" fill="#111" stroke="#111" stroke-width="0.3">2</text>
<text transform="translate(536.00 227.82) scale(0.93 1)" font-size="10.4" text-anchor="start" fill="#111" stroke="#111" stroke-width="0.3">0</text>
<rect x="27.00" y="164.00" width="13.20" height="11.21" fill="#0072bd"/>
<rect x="40.15" y="164.00" width="13.20" height="11.21" fill="#e6f1fa"/>
<rect x="53.30" y="164.00" width="13.20" height="11.21" fill="#e6f1fa"/>
<rect x="66.45" y="164.00" width="13.20" height="11.21" fill="#e6f1fa"/>
<rect x="79.60" y="164.00" width="13.20" height="11.21" fill="#e6f1fa"/>
<rect x="92.75" y="164.00" width="13.20" height="11.21" fill="#e6f1fa"/>
<rect x="105.90" y="164.00" width="13.20" height="11.21" fill="#e6f1fa"/>
<rect x="119.05" y="164.00" width="13.20" height="11.21" fill="#e6f1fa"/>
<rect x="132.20" y="164.00" width="13.20" height="11.21" fill="#e6f1fa"/>
<rect x="145.35" y="164.00" width="13.20" height="11.21" fill="#e6f1fa"/>
<rect x="27.00" y="175.16" width="13.20" height="11.21" fill="#e6f1fa"/>
<rect x="40.15" y="175.16" width="13.20" height="11.21" fill="#0072bd"/>
<rect x="53.30" y="175.16" width="13.20" height="11.21" fill="#e6f1fa"/>
<rect x="66.45" y="175.16" width="13.20" height="11.21" fill="#e6f1fa"/>
<rect x="79.60" y="175.16" width="13.20" height="11.21" fill="#e6f1fa"/>
<rect x="92.75" y="175.16" width="13.20" height="11.21" fill="#e6f1fa"/>
<rect x="105.90" y="175.16" width="13.20" height="11.21" fill="#e6f1fa"/>
<rect x="119.05" y="175.16" width="13.20" height="11.21" fill="#e6f1fa"/>
<rect x="132.20" y="175.16" width="13.20" height="11.21" fill="#e6f1fa"/>
<rect x="145.35" y="175.16" width="13.20" height="11.21" fill="#e6f1fa"/>
<rect x="27.00" y="186.32" width="13.20" height="11.21" fill="#e6f1fa"/>
<rect x="40.15" y="186.32" width="13.20" height="11.21" fill="#b9daf0"/>
<rect x="53.30" y="186.32" width="13.20" height="11.21" fill="#1683c6"/>
<rect x="66.45" y="186.32" width="13.20" height="11.21" fill="#e6f1fa"/>
<rect x="79.60" y="186.32" width="13.20" height="11.21" fill="#e6f1fa"/>
<rect x="92.75" y="186.32" width="13.20" height="11.21" fill="#e6f1fa"/>
<rect x="105.90" y="186.32" width="13.20" height="11.21" fill="#e6f1fa"/>
<rect x="119.05" y="186.32" width="13.20" height="11.21" fill="#e6f1fa"/>
<rect x="132.20" y="186.32" width="13.20" height="11.21" fill="#e6f1fa"/>
<rect x="145.35" y="186.32" width="13.20" height="11.21" fill="#e6f1fa"/>
<rect x="27.00" y="197.48" width="13.20" height="11.21" fill="#e6f1fa"/>
<rect x="40.15" y="197.48" width="13.20" height="11.21" fill="#e6f1fa"/>
<rect x="53.30" y="197.48" width="13.20" height="11.21" fill="#e6f1fa"/>
<rect x="66.45" y="197.48" width="13.20" height="11.21" fill="#0072bd"/>
<rect x="79.60" y="197.48" width="13.20" height="11.21" fill="#e6f1fa"/>
<rect x="92.75" y="197.48" width="13.20" height="11.21" fill="#e6f1fa"/>
<rect x="105.90" y="197.48" width="13.20" height="11.21" fill="#e6f1fa"/>
<rect x="119.05" y="197.48" width="13.20" height="11.21" fill="#e6f1fa"/>
<rect x="132.20" y="197.48" width="13.20" height="11.21" fill="#e6f1fa"/>
<rect x="145.35" y="197.48" width="13.20" height="11.21" fill="#e6f1fa"/>
<rect x="27.00" y="208.64" width="13.20" height="11.21" fill="#e6f1fa"/>
<rect x="40.15" y="208.64" width="13.20" height="11.21" fill="#e6f1fa"/>
<rect x="53.30" y="208.64" width="13.20" height="11.21" fill="#e6f1fa"/>
<rect x="66.45" y="208.64" width="13.20" height="11.21" fill="#cee4f4"/>
<rect x="79.60" y="208.64" width="13.20" height="11.21" fill="#0a78c0"/>
<rect x="92.75" y="208.64" width="13.20" height="11.21" fill="#e6f1fa"/>
<rect x="105.90" y="208.64" width="13.20" height="11.21" fill="#e6f1fa"/>
<rect x="119.05" y="208.64" width="13.20" height="11.21" fill="#e6f1fa"/>
<rect x="132.20" y="208.64" width="13.20" height="11.21" fill="#e6f1fa"/>
<rect x="145.35" y="208.64" width="13.20" height="11.21" fill="#e6f1fa"/>
<rect x="27.00" y="219.80" width="13.20" height="11.21" fill="#e6f1fa"/>
<rect x="40.15" y="219.80" width="13.20" height="11.21" fill="#e6f1fa"/>
<rect x="53.30" y="219.80" width="13.20" height="11.21" fill="#e6f1fa"/>
<rect x="66.45" y="219.80" width="13.20" height="11.21" fill="#e6f1fa"/>
<rect x="79.60" y="219.80" width="13.20" height="11.21" fill="#e6f1fa"/>
<rect x="92.75" y="219.80" width="13.20" height="11.21" fill="#0072bd"/>
<rect x="105.90" y="219.80" width="13.20" height="11.21" fill="#e6f1fa"/>
<rect x="119.05" y="219.80" width="13.20" height="11.21" fill="#e6f1fa"/>
<rect x="132.20" y="219.80" width="13.20" height="11.21" fill="#e6f1fa"/>
<rect x="145.35" y="219.80" width="13.20" height="11.21" fill="#e6f1fa"/>
<rect x="27.00" y="230.96" width="13.20" height="11.21" fill="#e6f1fa"/>
<rect x="40.15" y="230.96" width="13.20" height="11.21" fill="#e6f1fa"/>
<rect x="53.30" y="230.96" width="13.20" height="11.21" fill="#e6f1fa"/>
<rect x="66.45" y="230.96" width="13.20" height="11.21" fill="#e6f1fa"/>
<rect x="79.60" y="230.96" width="13.20" height="11.21" fill="#e6f1fa"/>
<rect x="92.75" y="230.96" width="13.20" height="11.21" fill="#e6f1fa"/>
<rect x="105.90" y="230.96" width="13.20" height="11.21" fill="#0072bd"/>
<rect x="119.05" y="230.96" width="13.20" height="11.21" fill="#e6f1fa"/>
<rect x="132.20" y="230.96" width="13.20" height="11.21" fill="#e6f1fa"/>
<rect x="145.35" y="230.96" width="13.20" height="11.21" fill="#e6f1fa"/>
<rect x="27.00" y="242.12" width="13.20" height="11.21" fill="#e6f1fa"/>
<rect x="40.15" y="242.12" width="13.20" height="11.21" fill="#e6f1fa"/>
<rect x="53.30" y="242.12" width="13.20" height="11.21" fill="#e6f1fa"/>
<rect x="66.45" y="242.12" width="13.20" height="11.21" fill="#e6f1fa"/>
<rect x="79.60" y="242.12" width="13.20" height="11.21" fill="#e6f1fa"/>
<rect x="92.75" y="242.12" width="13.20" height="11.21" fill="#e6f1fa"/>
<rect x="105.90" y="242.12" width="13.20" height="11.21" fill="#e6f1fa"/>
<rect x="119.05" y="242.12" width="13.20" height="11.21" fill="#0072bd"/>
<rect x="132.20" y="242.12" width="13.20" height="11.21" fill="#e6f1fa"/>
<rect x="145.35" y="242.12" width="13.20" height="11.21" fill="#e6f1fa"/>
<rect x="27.00" y="253.28" width="13.20" height="11.21" fill="#e6f1fa"/>
<rect x="40.15" y="253.28" width="13.20" height="11.21" fill="#e6f1fa"/>
<rect x="53.30" y="253.28" width="13.20" height="11.21" fill="#e6f1fa"/>
<rect x="66.45" y="253.28" width="13.20" height="11.21" fill="#e6f1fa"/>
<rect x="79.60" y="253.28" width="13.20" height="11.21" fill="#e6f1fa"/>
<rect x="92.75" y="253.28" width="13.20" height="11.21" fill="#e6f1fa"/>
<rect x="105.90" y="253.28" width="13.20" height="11.21" fill="#e6f1fa"/>
<rect x="119.05" y="253.28" width="13.20" height="11.21" fill="#b9daf0"/>
<rect x="132.20" y="253.28" width="13.20" height="11.21" fill="#1683c6"/>
<rect x="145.35" y="253.28" width="13.20" height="11.21" fill="#e6f1fa"/>
<rect x="27.00" y="264.44" width="13.20" height="11.21" fill="#e6f1fa"/>
<rect x="40.15" y="264.44" width="13.20" height="11.21" fill="#e6f1fa"/>
<rect x="53.30" y="264.44" width="13.20" height="11.21" fill="#e6f1fa"/>
<rect x="66.45" y="264.44" width="13.20" height="11.21" fill="#e6f1fa"/>
<rect x="79.60" y="264.44" width="13.20" height="11.21" fill="#e6f1fa"/>
<rect x="92.75" y="264.44" width="13.20" height="11.21" fill="#e6f1fa"/>
<rect x="105.90" y="264.44" width="13.20" height="11.21" fill="#e6f1fa"/>
<rect x="119.05" y="264.44" width="13.20" height="11.21" fill="#e6f1fa"/>
<rect x="132.20" y="264.44" width="13.20" height="11.21" fill="#cee4f4"/>
<rect x="145.35" y="264.44" width="13.20" height="11.21" fill="#0a78c0"/>
<path d="M27.00 164.00V275.60M27.00 164.00H158.50M40.15 164.00V275.60M27.00 175.16H158.50M53.30 164.00V275.60M27.00 186.32H158.50M66.45 164.00V275.60M27.00 197.48H158.50M79.60 164.00V275.60M27.00 208.64H158.50M92.75 164.00V275.60M27.00 219.80H158.50M105.90 164.00V275.60M27.00 230.96H158.50M119.05 164.00V275.60M27.00 242.12H158.50M132.20 164.00V275.60M27.00 253.28H158.50M145.35 164.00V275.60M27.00 264.44H158.50M158.50 164.00V275.60M27.00 275.60H158.50" stroke="#3c4852" stroke-width="0.36" fill="none"/>
<text x="33.58" y="171.19" font-size="4.5" text-anchor="middle" fill="#62baec" stroke="#62baec" stroke-width="0.12">10</text>
<text x="46.73" y="171.19" font-size="4.5" text-anchor="middle" fill="#555555" stroke="#555555" stroke-width="0.12">0</text>
<text x="59.88" y="171.19" font-size="4.5" text-anchor="middle" fill="#555555" stroke="#555555" stroke-width="0.12">0</text>
<text x="73.03" y="171.19" font-size="4.5" text-anchor="middle" fill="#555555" stroke="#555555" stroke-width="0.12">0</text>
<text x="86.18" y="171.19" font-size="4.5" text-anchor="middle" fill="#555555" stroke="#555555" stroke-width="0.12">0</text>
<text x="99.33" y="171.19" font-size="4.5" text-anchor="middle" fill="#555555" stroke="#555555" stroke-width="0.12">0</text>
<text x="112.48" y="171.19" font-size="4.5" text-anchor="middle" fill="#555555" stroke="#555555" stroke-width="0.12">0</text>
<text x="125.62" y="171.19" font-size="4.5" text-anchor="middle" fill="#555555" stroke="#555555" stroke-width="0.12">0</text>
<text x="138.78" y="171.19" font-size="4.5" text-anchor="middle" fill="#555555" stroke="#555555" stroke-width="0.12">0</text>
<text x="151.93" y="171.19" font-size="4.5" text-anchor="middle" fill="#555555" stroke="#555555" stroke-width="0.12">0</text>
<text x="33.58" y="182.35" font-size="4.5" text-anchor="middle" fill="#555555" stroke="#555555" stroke-width="0.12">0</text>
<text x="46.73" y="182.35" font-size="4.5" text-anchor="middle" fill="#62baec" stroke="#62baec" stroke-width="0.12">10</text>
<text x="59.88" y="182.35" font-size="4.5" text-anchor="middle" fill="#555555" stroke="#555555" stroke-width="0.12">0</text>
<text x="73.03" y="182.35" font-size="4.5" text-anchor="middle" fill="#555555" stroke="#555555" stroke-width="0.12">0</text>
<text x="86.18" y="182.35" font-size="4.5" text-anchor="middle" fill="#555555" stroke="#555555" stroke-width="0.12">0</text>
<text x="99.33" y="182.35" font-size="4.5" text-anchor="middle" fill="#555555" stroke="#555555" stroke-width="0.12">0</text>
<text x="112.48" y="182.35" font-size="4.5" text-anchor="middle" fill="#555555" stroke="#555555" stroke-width="0.12">0</text>
<text x="125.62" y="182.35" font-size="4.5" text-anchor="middle" fill="#555555" stroke="#555555" stroke-width="0.12">0</text>
<text x="138.78" y="182.35" font-size="4.5" text-anchor="middle" fill="#555555" stroke="#555555" stroke-width="0.12">0</text>
<text x="151.93" y="182.35" font-size="4.5" text-anchor="middle" fill="#555555" stroke="#555555" stroke-width="0.12">0</text>
<text x="33.58" y="193.51" font-size="4.5" text-anchor="middle" fill="#555555" stroke="#555555" stroke-width="0.12">0</text>
<text x="46.73" y="193.51" font-size="4.5" text-anchor="middle" fill="#555555" stroke="#555555" stroke-width="0.12">2</text>
<text x="59.88" y="193.51" font-size="4.5" text-anchor="middle" fill="#62baec" stroke="#62baec" stroke-width="0.12">8</text>
<text x="73.03" y="193.51" font-size="4.5" text-anchor="middle" fill="#555555" stroke="#555555" stroke-width="0.12">0</text>
<text x="86.18" y="193.51" font-size="4.5" text-anchor="middle" fill="#555555" stroke="#555555" stroke-width="0.12">0</text>
<text x="99.33" y="193.51" font-size="4.5" text-anchor="middle" fill="#555555" stroke="#555555" stroke-width="0.12">0</text>
<text x="112.48" y="193.51" font-size="4.5" text-anchor="middle" fill="#555555" stroke="#555555" stroke-width="0.12">0</text>
<text x="125.62" y="193.51" font-size="4.5" text-anchor="middle" fill="#555555" stroke="#555555" stroke-width="0.12">0</text>
<text x="138.78" y="193.51" font-size="4.5" text-anchor="middle" fill="#555555" stroke="#555555" stroke-width="0.12">0</text>
<text x="151.93" y="193.51" font-size="4.5" text-anchor="middle" fill="#555555" stroke="#555555" stroke-width="0.12">0</text>
<text x="33.58" y="204.67" font-size="4.5" text-anchor="middle" fill="#555555" stroke="#555555" stroke-width="0.12">0</text>
<text x="46.73" y="204.67" font-size="4.5" text-anchor="middle" fill="#555555" stroke="#555555" stroke-width="0.12">0</text>
<text x="59.88" y="204.67" font-size="4.5" text-anchor="middle" fill="#555555" stroke="#555555" stroke-width="0.12">0</text>
<text x="73.03" y="204.67" font-size="4.5" text-anchor="middle" fill="#62baec" stroke="#62baec" stroke-width="0.12">10</text>
<text x="86.18" y="204.67" font-size="4.5" text-anchor="middle" fill="#555555" stroke="#555555" stroke-width="0.12">0</text>
<text x="99.33" y="204.67" font-size="4.5" text-anchor="middle" fill="#555555" stroke="#555555" stroke-width="0.12">0</text>
<text x="112.48" y="204.67" font-size="4.5" text-anchor="middle" fill="#555555" stroke="#555555" stroke-width="0.12">0</text>
<text x="125.62" y="204.67" font-size="4.5" text-anchor="middle" fill="#555555" stroke="#555555" stroke-width="0.12">0</text>
<text x="138.78" y="204.67" font-size="4.5" text-anchor="middle" fill="#555555" stroke="#555555" stroke-width="0.12">0</text>
<text x="151.93" y="204.67" font-size="4.5" text-anchor="middle" fill="#555555" stroke="#555555" stroke-width="0.12">0</text>
<text x="33.58" y="215.83" font-size="4.5" text-anchor="middle" fill="#555555" stroke="#555555" stroke-width="0.12">0</text>
<text x="46.73" y="215.83" font-size="4.5" text-anchor="middle" fill="#555555" stroke="#555555" stroke-width="0.12">0</text>
<text x="59.88" y="215.83" font-size="4.5" text-anchor="middle" fill="#555555" stroke="#555555" stroke-width="0.12">0</text>
<text x="73.03" y="215.83" font-size="4.5" text-anchor="middle" fill="#555555" stroke="#555555" stroke-width="0.12">1</text>
<text x="86.18" y="215.83" font-size="4.5" text-anchor="middle" fill="#62baec" stroke="#62baec" stroke-width="0.12">9</text>
<text x="99.33" y="215.83" font-size="4.5" text-anchor="middle" fill="#555555" stroke="#555555" stroke-width="0.12">0</text>
<text x="112.48" y="215.83" font-size="4.5" text-anchor="middle" fill="#555555" stroke="#555555" stroke-width="0.12">0</text>
<text x="125.62" y="215.83" font-size="4.5" text-anchor="middle" fill="#555555" stroke="#555555" stroke-width="0.12">0</text>
<text x="138.78" y="215.83" font-size="4.5" text-anchor="middle" fill="#555555" stroke="#555555" stroke-width="0.12">0</text>
<text x="151.93" y="215.83" font-size="4.5" text-anchor="middle" fill="#555555" stroke="#555555" stroke-width="0.12">0</text>
<text x="33.58" y="226.99" font-size="4.5" text-anchor="middle" fill="#555555" stroke="#555555" stroke-width="0.12">0</text>
<text x="46.73" y="226.99" font-size="4.5" text-anchor="middle" fill="#555555" stroke="#555555" stroke-width="0.12">0</text>
<text x="59.88" y="226.99" font-size="4.5" text-anchor="middle" fill="#555555" stroke="#555555" stroke-width="0.12">0</text>
<text x="73.03" y="226.99" font-size="4.5" text-anchor="middle" fill="#555555" stroke="#555555" stroke-width="0.12">0</text>
<text x="86.18" y="226.99" font-size="4.5" text-anchor="middle" fill="#555555" stroke="#555555" stroke-width="0.12">0</text>
<text x="99.33" y="226.99" font-size="4.5" text-anchor="middle" fill="#62baec" stroke="#62baec" stroke-width="0.12">10</text>
<text x="112.48" y="226.99" font-size="4.5" text-anchor="middle" fill="#555555" stroke="#555555" stroke-width="0.12">0</text>
<text x="125.62" y="226.99" font-size="4.5" text-anchor="middle" fill="#555555" stroke="#555555" stroke-width="0.12">0</text>
<text x="138.78" y="226.99" font-size="4.5" text-anchor="middle" fill="#555555" stroke="#555555" stroke-width="0.12">0</text>
<text x="151.93" y="226.99" font-size="4.5" text-anchor="middle" fill="#555555" stroke="#555555" stroke-width="0.12">0</text>
<text x="33.58" y="238.15" font-size="4.5" text-anchor="middle" fill="#555555" stroke="#555555" stroke-width="0.12">0</text>
<text x="46.73" y="238.15" font-size="4.5" text-anchor="middle" fill="#555555" stroke="#555555" stroke-width="0.12">0</text>
<text x="59.88" y="238.15" font-size="4.5" text-anchor="middle" fill="#555555" stroke="#555555" stroke-width="0.12">0</text>
<text x="73.03" y="238.15" font-size="4.5" text-anchor="middle" fill="#555555" stroke="#555555" stroke-width="0.12">0</text>
<text x="86.18" y="238.15" font-size="4.5" text-anchor="middle" fill="#555555" stroke="#555555" stroke-width="0.12">0</text>
<text x="99.33" y="238.15" font-size="4.5" text-anchor="middle" fill="#555555" stroke="#555555" stroke-width="0.12">0</text>
<text x="112.48" y="238.15" font-size="4.5" text-anchor="middle" fill="#62baec" stroke="#62baec" stroke-width="0.12">10</text>
<text x="125.62" y="238.15" font-size="4.5" text-anchor="middle" fill="#555555" stroke="#555555" stroke-width="0.12">0</text>
<text x="138.78" y="238.15" font-size="4.5" text-anchor="middle" fill="#555555" stroke="#555555" stroke-width="0.12">0</text>
<text x="151.93" y="238.15" font-size="4.5" text-anchor="middle" fill="#555555" stroke="#555555" stroke-width="0.12">0</text>
<text x="33.58" y="249.31" font-size="4.5" text-anchor="middle" fill="#555555" stroke="#555555" stroke-width="0.12">0</text>
<text x="46.73" y="249.31" font-size="4.5" text-anchor="middle" fill="#555555" stroke="#555555" stroke-width="0.12">0</text>
<text x="59.88" y="249.31" font-size="4.5" text-anchor="middle" fill="#555555" stroke="#555555" stroke-width="0.12">0</text>
<text x="73.03" y="249.31" font-size="4.5" text-anchor="middle" fill="#555555" stroke="#555555" stroke-width="0.12">0</text>
<text x="86.18" y="249.31" font-size="4.5" text-anchor="middle" fill="#555555" stroke="#555555" stroke-width="0.12">0</text>
<text x="99.33" y="249.31" font-size="4.5" text-anchor="middle" fill="#555555" stroke="#555555" stroke-width="0.12">0</text>
<text x="112.48" y="249.31" font-size="4.5" text-anchor="middle" fill="#555555" stroke="#555555" stroke-width="0.12">0</text>
<text x="125.62" y="249.31" font-size="4.5" text-anchor="middle" fill="#62baec" stroke="#62baec" stroke-width="0.12">10</text>
<text x="138.78" y="249.31" font-size="4.5" text-anchor="middle" fill="#555555" stroke="#555555" stroke-width="0.12">0</text>
<text x="151.93" y="249.31" font-size="4.5" text-anchor="middle" fill="#555555" stroke="#555555" stroke-width="0.12">0</text>
<text x="33.58" y="260.47" font-size="4.5" text-anchor="middle" fill="#555555" stroke="#555555" stroke-width="0.12">0</text>
<text x="46.73" y="260.47" font-size="4.5" text-anchor="middle" fill="#555555" stroke="#555555" stroke-width="0.12">0</text>
<text x="59.88" y="260.47" font-size="4.5" text-anchor="middle" fill="#555555" stroke="#555555" stroke-width="0.12">0</text>
<text x="73.03" y="260.47" font-size="4.5" text-anchor="middle" fill="#555555" stroke="#555555" stroke-width="0.12">0</text>
<text x="86.18" y="260.47" font-size="4.5" text-anchor="middle" fill="#555555" stroke="#555555" stroke-width="0.12">0</text>
<text x="99.33" y="260.47" font-size="4.5" text-anchor="middle" fill="#555555" stroke="#555555" stroke-width="0.12">0</text>
<text x="112.48" y="260.47" font-size="4.5" text-anchor="middle" fill="#555555" stroke="#555555" stroke-width="0.12">0</text>
<text x="125.62" y="260.47" font-size="4.5" text-anchor="middle" fill="#555555" stroke="#555555" stroke-width="0.12">2</text>
<text x="138.78" y="260.47" font-size="4.5" text-anchor="middle" fill="#62baec" stroke="#62baec" stroke-width="0.12">8</text>
<text x="151.93" y="260.47" font-size="4.5" text-anchor="middle" fill="#555555" stroke="#555555" stroke-width="0.12">0</text>
<text x="33.58" y="271.63" font-size="4.5" text-anchor="middle" fill="#555555" stroke="#555555" stroke-width="0.12">0</text>
<text x="46.73" y="271.63" font-size="4.5" text-anchor="middle" fill="#555555" stroke="#555555" stroke-width="0.12">0</text>
<text x="59.88" y="271.63" font-size="4.5" text-anchor="middle" fill="#555555" stroke="#555555" stroke-width="0.12">0</text>
<text x="73.03" y="271.63" font-size="4.5" text-anchor="middle" fill="#555555" stroke="#555555" stroke-width="0.12">0</text>
<text x="86.18" y="271.63" font-size="4.5" text-anchor="middle" fill="#555555" stroke="#555555" stroke-width="0.12">0</text>
<text x="99.33" y="271.63" font-size="4.5" text-anchor="middle" fill="#555555" stroke="#555555" stroke-width="0.12">0</text>
<text x="112.48" y="271.63" font-size="4.5" text-anchor="middle" fill="#555555" stroke="#555555" stroke-width="0.12">0</text>
<text x="125.62" y="271.63" font-size="4.5" text-anchor="middle" fill="#555555" stroke="#555555" stroke-width="0.12">0</text>
<text x="138.78" y="271.63" font-size="4.5" text-anchor="middle" fill="#555555" stroke="#555555" stroke-width="0.12">1</text>
<text x="151.93" y="271.63" font-size="4.5" text-anchor="middle" fill="#62baec" stroke="#62baec" stroke-width="0.12">9</text>
<text transform="translate(24.80 170.84) scale(0.88 1)" font-size="6.3" text-anchor="end" fill="#1a1a1a" stroke="#1a1a1a" stroke-width="0.12">10.5</text>
<text transform="translate(24.80 193.38) scale(0.88 1)" font-size="6.3" text-anchor="end" fill="#1a1a1a" stroke="#1a1a1a" stroke-width="0.12">11.5</text>
<text transform="translate(24.80 215.92) scale(0.88 1)" font-size="6.3" text-anchor="end" fill="#1a1a1a" stroke="#1a1a1a" stroke-width="0.12">12.5</text>
<text transform="translate(24.80 238.46) scale(0.88 1)" font-size="6.3" text-anchor="end" fill="#1a1a1a" stroke="#1a1a1a" stroke-width="0.12">13.5</text>
<text transform="translate(24.80 261.00) scale(0.88 1)" font-size="6.3" text-anchor="end" fill="#1a1a1a" stroke="#1a1a1a" stroke-width="0.12">14.5</text>
<text transform="translate(33.58 283.26) scale(0.88 1)" font-size="6.3" text-anchor="middle" fill="#1a1a1a" stroke="#1a1a1a" stroke-width="0.12">10.5</text>
<text transform="translate(59.88 283.26) scale(0.88 1)" font-size="6.3" text-anchor="middle" fill="#1a1a1a" stroke="#1a1a1a" stroke-width="0.12">11.5</text>
<text transform="translate(86.18 283.26) scale(0.88 1)" font-size="6.3" text-anchor="middle" fill="#1a1a1a" stroke="#1a1a1a" stroke-width="0.12">12.5</text>
<text transform="translate(112.48 283.26) scale(0.88 1)" font-size="6.3" text-anchor="middle" fill="#1a1a1a" stroke="#1a1a1a" stroke-width="0.12">13.5</text>
<text transform="translate(138.78 283.26) scale(0.88 1)" font-size="6.3" text-anchor="middle" fill="#1a1a1a" stroke="#1a1a1a" stroke-width="0.12">14.5</text>
<rect x="193.20" y="161.20" width="13.35" height="11.39" fill="#0072bd"/>
<rect x="206.50" y="161.20" width="13.35" height="11.39" fill="#e6f1fa"/>
<rect x="219.80" y="161.20" width="13.35" height="11.39" fill="#e6f1fa"/>
<rect x="233.10" y="161.20" width="13.35" height="11.39" fill="#e6f1fa"/>
<rect x="246.40" y="161.20" width="13.35" height="11.39" fill="#e6f1fa"/>
<rect x="259.70" y="161.20" width="13.35" height="11.39" fill="#e6f1fa"/>
<rect x="273.00" y="161.20" width="13.35" height="11.39" fill="#e6f1fa"/>
<rect x="286.30" y="161.20" width="13.35" height="11.39" fill="#e6f1fa"/>
<rect x="299.60" y="161.20" width="13.35" height="11.39" fill="#e6f1fa"/>
<rect x="312.90" y="161.20" width="13.35" height="11.39" fill="#e6f1fa"/>
<rect x="193.20" y="172.54" width="13.35" height="11.39" fill="#cee4f4"/>
<rect x="206.50" y="172.54" width="13.35" height="11.39" fill="#0a78c0"/>
<rect x="219.80" y="172.54" width="13.35" height="11.39" fill="#e6f1fa"/>
<rect x="233.10" y="172.54" width="13.35" height="11.39" fill="#e6f1fa"/>
<rect x="246.40" y="172.54" width="13.35" height="11.39" fill="#e6f1fa"/>
<rect x="259.70" y="172.54" width="13.35" height="11.39" fill="#e6f1fa"/>
<rect x="273.00" y="172.54" width="13.35" height="11.39" fill="#e6f1fa"/>
<rect x="286.30" y="172.54" width="13.35" height="11.39" fill="#e6f1fa"/>
<rect x="299.60" y="172.54" width="13.35" height="11.39" fill="#e6f1fa"/>
<rect x="312.90" y="172.54" width="13.35" height="11.39" fill="#e6f1fa"/>
<rect x="193.20" y="183.88" width="13.35" height="11.39" fill="#e6f1fa"/>
<rect x="206.50" y="183.88" width="13.35" height="11.39" fill="#cee4f4"/>
<rect x="219.80" y="183.88" width="13.35" height="11.39" fill="#0a78c0"/>
<rect x="233.10" y="183.88" width="13.35" height="11.39" fill="#e6f1fa"/>
<rect x="246.40" y="183.88" width="13.35" height="11.39" fill="#e6f1fa"/>
<rect x="259.70" y="183.88" width="13.35" height="11.39" fill="#e6f1fa"/>
<rect x="273.00" y="183.88" width="13.35" height="11.39" fill="#e6f1fa"/>
<rect x="286.30" y="183.88" width="13.35" height="11.39" fill="#e6f1fa"/>
<rect x="299.60" y="183.88" width="13.35" height="11.39" fill="#e6f1fa"/>
<rect x="312.90" y="183.88" width="13.35" height="11.39" fill="#e6f1fa"/>
<rect x="193.20" y="195.22" width="13.35" height="11.39" fill="#e6f1fa"/>
<rect x="206.50" y="195.22" width="13.35" height="11.39" fill="#e6f1fa"/>
<rect x="219.80" y="195.22" width="13.35" height="11.39" fill="#e6f1fa"/>
<rect x="233.10" y="195.22" width="13.35" height="11.39" fill="#0072bd"/>
<rect x="246.40" y="195.22" width="13.35" height="11.39" fill="#e6f1fa"/>
<rect x="259.70" y="195.22" width="13.35" height="11.39" fill="#e6f1fa"/>
<rect x="273.00" y="195.22" width="13.35" height="11.39" fill="#e6f1fa"/>
<rect x="286.30" y="195.22" width="13.35" height="11.39" fill="#e6f1fa"/>
<rect x="299.60" y="195.22" width="13.35" height="11.39" fill="#e6f1fa"/>
<rect x="312.90" y="195.22" width="13.35" height="11.39" fill="#e6f1fa"/>
<rect x="193.20" y="206.56" width="13.35" height="11.39" fill="#e6f1fa"/>
<rect x="206.50" y="206.56" width="13.35" height="11.39" fill="#e6f1fa"/>
<rect x="219.80" y="206.56" width="13.35" height="11.39" fill="#e6f1fa"/>
<rect x="233.10" y="206.56" width="13.35" height="11.39" fill="#cee4f4"/>
<rect x="246.40" y="206.56" width="13.35" height="11.39" fill="#1683c6"/>
<rect x="259.70" y="206.56" width="13.35" height="11.39" fill="#cee4f4"/>
<rect x="273.00" y="206.56" width="13.35" height="11.39" fill="#e6f1fa"/>
<rect x="286.30" y="206.56" width="13.35" height="11.39" fill="#e6f1fa"/>
<rect x="299.60" y="206.56" width="13.35" height="11.39" fill="#e6f1fa"/>
<rect x="312.90" y="206.56" width="13.35" height="11.39" fill="#e6f1fa"/>
<rect x="193.20" y="217.90" width="13.35" height="11.39" fill="#e6f1fa"/>
<rect x="206.50" y="217.90" width="13.35" height="11.39" fill="#e6f1fa"/>
<rect x="219.80" y="217.90" width="13.35" height="11.39" fill="#e6f1fa"/>
<rect x="233.10" y="217.90" width="13.35" height="11.39" fill="#e6f1fa"/>
<rect x="246.40" y="217.90" width="13.35" height="11.39" fill="#e6f1fa"/>
<rect x="259.70" y="217.90" width="13.35" height="11.39" fill="#0a78c0"/>
<rect x="273.00" y="217.90" width="13.35" height="11.39" fill="#cee4f4"/>
<rect x="286.30" y="217.90" width="13.35" height="11.39" fill="#e6f1fa"/>
<rect x="299.60" y="217.90" width="13.35" height="11.39" fill="#e6f1fa"/>
<rect x="312.90" y="217.90" width="13.35" height="11.39" fill="#e6f1fa"/>
<rect x="193.20" y="229.24" width="13.35" height="11.39" fill="#e6f1fa"/>
<rect x="206.50" y="229.24" width="13.35" height="11.39" fill="#e6f1fa"/>
<rect x="219.80" y="229.24" width="13.35" height="11.39" fill="#e6f1fa"/>
<rect x="233.10" y="229.24" width="13.35" height="11.39" fill="#e6f1fa"/>
<rect x="246.40" y="229.24" width="13.35" height="11.39" fill="#e6f1fa"/>
<rect x="259.70" y="229.24" width="13.35" height="11.39" fill="#e6f1fa"/>
<rect x="273.00" y="229.24" width="13.35" height="11.39" fill="#0a78c0"/>
<rect x="286.30" y="229.24" width="13.35" height="11.39" fill="#cee4f4"/>
<rect x="299.60" y="229.24" width="13.35" height="11.39" fill="#e6f1fa"/>
<rect x="312.90" y="229.24" width="13.35" height="11.39" fill="#e6f1fa"/>
<rect x="193.20" y="240.58" width="13.35" height="11.39" fill="#e6f1fa"/>
<rect x="206.50" y="240.58" width="13.35" height="11.39" fill="#e6f1fa"/>
<rect x="219.80" y="240.58" width="13.35" height="11.39" fill="#e6f1fa"/>
<rect x="233.10" y="240.58" width="13.35" height="11.39" fill="#e6f1fa"/>
<rect x="246.40" y="240.58" width="13.35" height="11.39" fill="#e6f1fa"/>
<rect x="259.70" y="240.58" width="13.35" height="11.39" fill="#e6f1fa"/>
<rect x="273.00" y="240.58" width="13.35" height="11.39" fill="#cee4f4"/>
<rect x="286.30" y="240.58" width="13.35" height="11.39" fill="#0a78c0"/>
<rect x="299.60" y="240.58" width="13.35" height="11.39" fill="#e6f1fa"/>
<rect x="312.90" y="240.58" width="13.35" height="11.39" fill="#e6f1fa"/>
<rect x="193.20" y="251.92" width="13.35" height="11.39" fill="#e6f1fa"/>
<rect x="206.50" y="251.92" width="13.35" height="11.39" fill="#e6f1fa"/>
<rect x="219.80" y="251.92" width="13.35" height="11.39" fill="#e6f1fa"/>
<rect x="233.10" y="251.92" width="13.35" height="11.39" fill="#e6f1fa"/>
<rect x="246.40" y="251.92" width="13.35" height="11.39" fill="#e6f1fa"/>
<rect x="259.70" y="251.92" width="13.35" height="11.39" fill="#e6f1fa"/>
<rect x="273.00" y="251.92" width="13.35" height="11.39" fill="#e6f1fa"/>
<rect x="286.30" y="251.92" width="13.35" height="11.39" fill="#cee4f4"/>
<rect x="299.60" y="251.92" width="13.35" height="11.39" fill="#0a78c0"/>
<rect x="312.90" y="251.92" width="13.35" height="11.39" fill="#e6f1fa"/>
<rect x="193.20" y="263.26" width="13.35" height="11.39" fill="#e6f1fa"/>
<rect x="206.50" y="263.26" width="13.35" height="11.39" fill="#e6f1fa"/>
<rect x="219.80" y="263.26" width="13.35" height="11.39" fill="#e6f1fa"/>
<rect x="233.10" y="263.26" width="13.35" height="11.39" fill="#e6f1fa"/>
<rect x="246.40" y="263.26" width="13.35" height="11.39" fill="#e6f1fa"/>
<rect x="259.70" y="263.26" width="13.35" height="11.39" fill="#e6f1fa"/>
<rect x="273.00" y="263.26" width="13.35" height="11.39" fill="#e6f1fa"/>
<rect x="286.30" y="263.26" width="13.35" height="11.39" fill="#e6f1fa"/>
<rect x="299.60" y="263.26" width="13.35" height="11.39" fill="#e6f1fa"/>
<rect x="312.90" y="263.26" width="13.35" height="11.39" fill="#0072bd"/>
<path d="M193.20 161.20V274.60M193.20 161.20H326.20M206.50 161.20V274.60M193.20 172.54H326.20M219.80 161.20V274.60M193.20 183.88H326.20M233.10 161.20V274.60M193.20 195.22H326.20M246.40 161.20V274.60M193.20 206.56H326.20M259.70 161.20V274.60M193.20 217.90H326.20M273.00 161.20V274.60M193.20 229.24H326.20M286.30 161.20V274.60M193.20 240.58H326.20M299.60 161.20V274.60M193.20 251.92H326.20M312.90 161.20V274.60M193.20 263.26H326.20M326.20 161.20V274.60M193.20 274.60H326.20" stroke="#3c4852" stroke-width="0.36" fill="none"/>
<text x="199.85" y="168.48" font-size="4.5" text-anchor="middle" fill="#62baec" stroke="#62baec" stroke-width="0.12">10</text>
<text x="213.15" y="168.48" font-size="4.5" text-anchor="middle" fill="#555555" stroke="#555555" stroke-width="0.12">0</text>
<text x="226.45" y="168.48" font-size="4.5" text-anchor="middle" fill="#555555" stroke="#555555" stroke-width="0.12">0</text>
<text x="239.75" y="168.48" font-size="4.5" text-anchor="middle" fill="#555555" stroke="#555555" stroke-width="0.12">0</text>
<text x="253.05" y="168.48" font-size="4.5" text-anchor="middle" fill="#555555" stroke="#555555" stroke-width="0.12">0</text>
<text x="266.35" y="168.48" font-size="4.5" text-anchor="middle" fill="#555555" stroke="#555555" stroke-width="0.12">0</text>
<text x="279.65" y="168.48" font-size="4.5" text-anchor="middle" fill="#555555" stroke="#555555" stroke-width="0.12">0</text>
<text x="292.95" y="168.48" font-size="4.5" text-anchor="middle" fill="#555555" stroke="#555555" stroke-width="0.12">0</text>
<text x="306.25" y="168.48" font-size="4.5" text-anchor="middle" fill="#555555" stroke="#555555" stroke-width="0.12">0</text>
<text x="319.55" y="168.48" font-size="4.5" text-anchor="middle" fill="#555555" stroke="#555555" stroke-width="0.12">0</text>
<text x="199.85" y="179.82" font-size="4.5" text-anchor="middle" fill="#555555" stroke="#555555" stroke-width="0.12">1</text>
<text x="213.15" y="179.82" font-size="4.5" text-anchor="middle" fill="#62baec" stroke="#62baec" stroke-width="0.12">9</text>
<text x="226.45" y="179.82" font-size="4.5" text-anchor="middle" fill="#555555" stroke="#555555" stroke-width="0.12">0</text>
<text x="239.75" y="179.82" font-size="4.5" text-anchor="middle" fill="#555555" stroke="#555555" stroke-width="0.12">0</text>
<text x="253.05" y="179.82" font-size="4.5" text-anchor="middle" fill="#555555" stroke="#555555" stroke-width="0.12">0</text>
<text x="266.35" y="179.82" font-size="4.5" text-anchor="middle" fill="#555555" stroke="#555555" stroke-width="0.12">0</text>
<text x="279.65" y="179.82" font-size="4.5" text-anchor="middle" fill="#555555" stroke="#555555" stroke-width="0.12">0</text>
<text x="292.95" y="179.82" font-size="4.5" text-anchor="middle" fill="#555555" stroke="#555555" stroke-width="0.12">0</text>
<text x="306.25" y="179.82" font-size="4.5" text-anchor="middle" fill="#555555" stroke="#555555" stroke-width="0.12">0</text>
<text x="319.55" y="179.82" font-size="4.5" text-anchor="middle" fill="#555555" stroke="#555555" stroke-width="0.12">0</text>
<text x="199.85" y="191.16" font-size="4.5" text-anchor="middle" fill="#555555" stroke="#555555" stroke-width="0.12">0</text>
<text x="213.15" y="191.16" font-size="4.5" text-anchor="middle" fill="#555555" stroke="#555555" stroke-width="0.12">1</text>
<text x="226.45" y="191.16" font-size="4.5" text-anchor="middle" fill="#62baec" stroke="#62baec" stroke-width="0.12">9</text>
<text x="239.75" y="191.16" font-size="4.5" text-anchor="middle" fill="#555555" stroke="#555555" stroke-width="0.12">0</text>
<text x="253.05" y="191.16" font-size="4.5" text-anchor="middle" fill="#555555" stroke="#555555" stroke-width="0.12">0</text>
<text x="266.35" y="191.16" font-size="4.5" text-anchor="middle" fill="#555555" stroke="#555555" stroke-width="0.12">0</text>
<text x="279.65" y="191.16" font-size="4.5" text-anchor="middle" fill="#555555" stroke="#555555" stroke-width="0.12">0</text>
<text x="292.95" y="191.16" font-size="4.5" text-anchor="middle" fill="#555555" stroke="#555555" stroke-width="0.12">0</text>
<text x="306.25" y="191.16" font-size="4.5" text-anchor="middle" fill="#555555" stroke="#555555" stroke-width="0.12">0</text>
<text x="319.55" y="191.16" font-size="4.5" text-anchor="middle" fill="#555555" stroke="#555555" stroke-width="0.12">0</text>
<text x="199.85" y="202.50" font-size="4.5" text-anchor="middle" fill="#555555" stroke="#555555" stroke-width="0.12">0</text>
<text x="213.15" y="202.50" font-size="4.5" text-anchor="middle" fill="#555555" stroke="#555555" stroke-width="0.12">0</text>
<text x="226.45" y="202.50" font-size="4.5" text-anchor="middle" fill="#555555" stroke="#555555" stroke-width="0.12">0</text>
<text x="239.75" y="202.50" font-size="4.5" text-anchor="middle" fill="#62baec" stroke="#62baec" stroke-width="0.12">10</text>
<text x="253.05" y="202.50" font-size="4.5" text-anchor="middle" fill="#555555" stroke="#555555" stroke-width="0.12">0</text>
<text x="266.35" y="202.50" font-size="4.5" text-anchor="middle" fill="#555555" stroke="#555555" stroke-width="0.12">0</text>
<text x="279.65" y="202.50" font-size="4.5" text-anchor="middle" fill="#555555" stroke="#555555" stroke-width="0.12">0</text>
<text x="292.95" y="202.50" font-size="4.5" text-anchor="middle" fill="#555555" stroke="#555555" stroke-width="0.12">0</text>
<text x="306.25" y="202.50" font-size="4.5" text-anchor="middle" fill="#555555" stroke="#555555" stroke-width="0.12">0</text>
<text x="319.55" y="202.50" font-size="4.5" text-anchor="middle" fill="#555555" stroke="#555555" stroke-width="0.12">0</text>
<text x="199.85" y="213.84" font-size="4.5" text-anchor="middle" fill="#555555" stroke="#555555" stroke-width="0.12">0</text>
<text x="213.15" y="213.84" font-size="4.5" text-anchor="middle" fill="#555555" stroke="#555555" stroke-width="0.12">0</text>
<text x="226.45" y="213.84" font-size="4.5" text-anchor="middle" fill="#555555" stroke="#555555" stroke-width="0.12">0</text>
<text x="239.75" y="213.84" font-size="4.5" text-anchor="middle" fill="#555555" stroke="#555555" stroke-width="0.12">1</text>
<text x="253.05" y="213.84" font-size="4.5" text-anchor="middle" fill="#62baec" stroke="#62baec" stroke-width="0.12">8</text>
<text x="266.35" y="213.84" font-size="4.5" text-anchor="middle" fill="#555555" stroke="#555555" stroke-width="0.12">1</text>
<text x="279.65" y="213.84" font-size="4.5" text-anchor="middle" fill="#555555" stroke="#555555" stroke-width="0.12">0</text>
<text x="292.95" y="213.84" font-size="4.5" text-anchor="middle" fill="#555555" stroke="#555555" stroke-width="0.12">0</text>
<text x="306.25" y="213.84" font-size="4.5" text-anchor="middle" fill="#555555" stroke="#555555" stroke-width="0.12">0</text>
<text x="319.55" y="213.84" font-size="4.5" text-anchor="middle" fill="#555555" stroke="#555555" stroke-width="0.12">0</text>
<text x="199.85" y="225.18" font-size="4.5" text-anchor="middle" fill="#555555" stroke="#555555" stroke-width="0.12">0</text>
<text x="213.15" y="225.18" font-size="4.5" text-anchor="middle" fill="#555555" stroke="#555555" stroke-width="0.12">0</text>
<text x="226.45" y="225.18" font-size="4.5" text-anchor="middle" fill="#555555" stroke="#555555" stroke-width="0.12">0</text>
<text x="239.75" y="225.18" font-size="4.5" text-anchor="middle" fill="#555555" stroke="#555555" stroke-width="0.12">0</text>
<text x="253.05" y="225.18" font-size="4.5" text-anchor="middle" fill="#555555" stroke="#555555" stroke-width="0.12">0</text>
<text x="266.35" y="225.18" font-size="4.5" text-anchor="middle" fill="#62baec" stroke="#62baec" stroke-width="0.12">9</text>
<text x="279.65" y="225.18" font-size="4.5" text-anchor="middle" fill="#555555" stroke="#555555" stroke-width="0.12">1</text>
<text x="292.95" y="225.18" font-size="4.5" text-anchor="middle" fill="#555555" stroke="#555555" stroke-width="0.12">0</text>
<text x="306.25" y="225.18" font-size="4.5" text-anchor="middle" fill="#555555" stroke="#555555" stroke-width="0.12">0</text>
<text x="319.55" y="225.18" font-size="4.5" text-anchor="middle" fill="#555555" stroke="#555555" stroke-width="0.12">0</text>
<text x="199.85" y="236.52" font-size="4.5" text-anchor="middle" fill="#555555" stroke="#555555" stroke-width="0.12">0</text>
<text x="213.15" y="236.52" font-size="4.5" text-anchor="middle" fill="#555555" stroke="#555555" stroke-width="0.12">0</text>
<text x="226.45" y="236.52" font-size="4.5" text-anchor="middle" fill="#555555" stroke="#555555" stroke-width="0.12">0</text>
<text x="239.75" y="236.52" font-size="4.5" text-anchor="middle" fill="#555555" stroke="#555555" stroke-width="0.12">0</text>
<text x="253.05" y="236.52" font-size="4.5" text-anchor="middle" fill="#555555" stroke="#555555" stroke-width="0.12">0</text>
<text x="266.35" y="236.52" font-size="4.5" text-anchor="middle" fill="#555555" stroke="#555555" stroke-width="0.12">0</text>
<text x="279.65" y="236.52" font-size="4.5" text-anchor="middle" fill="#62baec" stroke="#62baec" stroke-width="0.12">9</text>
<text x="292.95" y="236.52" font-size="4.5" text-anchor="middle" fill="#555555" stroke="#555555" stroke-width="0.12">1</text>
<text x="306.25" y="236.52" font-size="4.5" text-anchor="middle" fill="#555555" stroke="#555555" stroke-width="0.12">0</text>
<text x="319.55" y="236.52" font-size="4.5" text-anchor="middle" fill="#555555" stroke="#555555" stroke-width="0.12">0</text>
<text x="199.85" y="247.86" font-size="4.5" text-anchor="middle" fill="#555555" stroke="#555555" stroke-width="0.12">0</text>
<text x="213.15" y="247.86" font-size="4.5" text-anchor="middle" fill="#555555" stroke="#555555" stroke-width="0.12">0</text>
<text x="226.45" y="247.86" font-size="4.5" text-anchor="middle" fill="#555555" stroke="#555555" stroke-width="0.12">0</text>
<text x="239.75" y="247.86" font-size="4.5" text-anchor="middle" fill="#555555" stroke="#555555" stroke-width="0.12">0</text>
<text x="253.05" y="247.86" font-size="4.5" text-anchor="middle" fill="#555555" stroke="#555555" stroke-width="0.12">0</text>
<text x="266.35" y="247.86" font-size="4.5" text-anchor="middle" fill="#555555" stroke="#555555" stroke-width="0.12">0</text>
<text x="279.65" y="247.86" font-size="4.5" text-anchor="middle" fill="#555555" stroke="#555555" stroke-width="0.12">1</text>
<text x="292.95" y="247.86" font-size="4.5" text-anchor="middle" fill="#62baec" stroke="#62baec" stroke-width="0.12">9</text>
<text x="306.25" y="247.86" font-size="4.5" text-anchor="middle" fill="#555555" stroke="#555555" stroke-width="0.12">0</text>
<text x="319.55" y="247.86" font-size="4.5" text-anchor="middle" fill="#555555" stroke="#555555" stroke-width="0.12">0</text>
<text x="199.85" y="259.20" font-size="4.5" text-anchor="middle" fill="#555555" stroke="#555555" stroke-width="0.12">0</text>
<text x="213.15" y="259.20" font-size="4.5" text-anchor="middle" fill="#555555" stroke="#555555" stroke-width="0.12">0</text>
<text x="226.45" y="259.20" font-size="4.5" text-anchor="middle" fill="#555555" stroke="#555555" stroke-width="0.12">0</text>
<text x="239.75" y="259.20" font-size="4.5" text-anchor="middle" fill="#555555" stroke="#555555" stroke-width="0.12">0</text>
<text x="253.05" y="259.20" font-size="4.5" text-anchor="middle" fill="#555555" stroke="#555555" stroke-width="0.12">0</text>
<text x="266.35" y="259.20" font-size="4.5" text-anchor="middle" fill="#555555" stroke="#555555" stroke-width="0.12">0</text>
<text x="279.65" y="259.20" font-size="4.5" text-anchor="middle" fill="#555555" stroke="#555555" stroke-width="0.12">0</text>
<text x="292.95" y="259.20" font-size="4.5" text-anchor="middle" fill="#555555" stroke="#555555" stroke-width="0.12">1</text>
<text x="306.25" y="259.20" font-size="4.5" text-anchor="middle" fill="#62baec" stroke="#62baec" stroke-width="0.12">9</text>
<text x="319.55" y="259.20" font-size="4.5" text-anchor="middle" fill="#555555" stroke="#555555" stroke-width="0.12">0</text>
<text x="199.85" y="270.54" font-size="4.5" text-anchor="middle" fill="#555555" stroke="#555555" stroke-width="0.12">0</text>
<text x="213.15" y="270.54" font-size="4.5" text-anchor="middle" fill="#555555" stroke="#555555" stroke-width="0.12">0</text>
<text x="226.45" y="270.54" font-size="4.5" text-anchor="middle" fill="#555555" stroke="#555555" stroke-width="0.12">0</text>
<text x="239.75" y="270.54" font-size="4.5" text-anchor="middle" fill="#555555" stroke="#555555" stroke-width="0.12">0</text>
<text x="253.05" y="270.54" font-size="4.5" text-anchor="middle" fill="#555555" stroke="#555555" stroke-width="0.12">0</text>
<text x="266.35" y="270.54" font-size="4.5" text-anchor="middle" fill="#555555" stroke="#555555" stroke-width="0.12">0</text>
<text x="279.65" y="270.54" font-size="4.5" text-anchor="middle" fill="#555555" stroke="#555555" stroke-width="0.12">0</text>
<text x="292.95" y="270.54" font-size="4.5" text-anchor="middle" fill="#555555" stroke="#555555" stroke-width="0.12">0</text>
<text x="306.25" y="270.54" font-size="4.5" text-anchor="middle" fill="#555555" stroke="#555555" stroke-width="0.12">0</text>
<text x="319.55" y="270.54" font-size="4.5" text-anchor="middle" fill="#62baec" stroke="#62baec" stroke-width="0.12">10</text>
<text x="190.00" y="167.94" font-size="5.65" text-anchor="end" fill="#1a1a1a" stroke="#1a1a1a" stroke-width="0.2">14.3</text>
<text x="190.00" y="190.84" font-size="5.65" text-anchor="end" fill="#1a1a1a" stroke="#1a1a1a" stroke-width="0.2">14.9</text>
<text x="190.00" y="213.74" font-size="5.65" text-anchor="end" fill="#1a1a1a" stroke="#1a1a1a" stroke-width="0.2">15.5</text>
<text x="190.00" y="236.64" font-size="5.65" text-anchor="end" fill="#1a1a1a" stroke="#1a1a1a" stroke-width="0.2">16.1</text>
<text x="190.00" y="259.54" font-size="5.65" text-anchor="end" fill="#1a1a1a" stroke="#1a1a1a" stroke-width="0.2">16.7</text>
<text x="199.85" y="282.02" font-size="5.65" text-anchor="middle" fill="#1a1a1a" stroke="#1a1a1a" stroke-width="0.2">14.3</text>
<text x="226.45" y="282.02" font-size="5.65" text-anchor="middle" fill="#1a1a1a" stroke="#1a1a1a" stroke-width="0.2">14.9</text>
<text x="253.05" y="282.02" font-size="5.65" text-anchor="middle" fill="#1a1a1a" stroke="#1a1a1a" stroke-width="0.2">15.5</text>
<text x="279.65" y="282.02" font-size="5.65" text-anchor="middle" fill="#1a1a1a" stroke="#1a1a1a" stroke-width="0.2">16.1</text>
<text x="306.25" y="282.02" font-size="5.65" text-anchor="middle" fill="#1a1a1a" stroke="#1a1a1a" stroke-width="0.2">16.7</text>
<rect x="365.30" y="158.10" width="13.77" height="11.72" fill="#1683c6"/>
<rect x="379.02" y="158.10" width="13.77" height="11.72" fill="#b9daf0"/>
<rect x="392.74" y="158.10" width="13.77" height="11.72" fill="#e6f1fa"/>
<rect x="406.46" y="158.10" width="13.77" height="11.72" fill="#e6f1fa"/>
<rect x="420.18" y="158.10" width="13.77" height="11.72" fill="#e6f1fa"/>
<rect x="433.90" y="158.10" width="13.77" height="11.72" fill="#e6f1fa"/>
<rect x="447.62" y="158.10" width="13.77" height="11.72" fill="#e6f1fa"/>
<rect x="461.34" y="158.10" width="13.77" height="11.72" fill="#e6f1fa"/>
<rect x="475.06" y="158.10" width="13.77" height="11.72" fill="#e6f1fa"/>
<rect x="488.78" y="158.10" width="13.77" height="11.72" fill="#e6f1fa"/>
<rect x="365.30" y="169.77" width="13.77" height="11.72" fill="#e6f1fa"/>
<rect x="379.02" y="169.77" width="13.77" height="11.72" fill="#0a78c0"/>
<rect x="392.74" y="169.77" width="13.77" height="11.72" fill="#e6f1fa"/>
<rect x="406.46" y="169.77" width="13.77" height="11.72" fill="#cee4f4"/>
<rect x="420.18" y="169.77" width="13.77" height="11.72" fill="#e6f1fa"/>
<rect x="433.90" y="169.77" width="13.77" height="11.72" fill="#e6f1fa"/>
<rect x="447.62" y="169.77" width="13.77" height="11.72" fill="#e6f1fa"/>
<rect x="461.34" y="169.77" width="13.77" height="11.72" fill="#e6f1fa"/>
<rect x="475.06" y="169.77" width="13.77" height="11.72" fill="#e6f1fa"/>
<rect x="488.78" y="169.77" width="13.77" height="11.72" fill="#e6f1fa"/>
<rect x="365.30" y="181.44" width="13.77" height="11.72" fill="#e6f1fa"/>
<rect x="379.02" y="181.44" width="13.77" height="11.72" fill="#cee4f4"/>
<rect x="392.74" y="181.44" width="13.77" height="11.72" fill="#1e88c8"/>
<rect x="406.46" y="181.44" width="13.77" height="11.72" fill="#b9daf0"/>
<rect x="420.18" y="181.44" width="13.77" height="11.72" fill="#e6f1fa"/>
<rect x="433.90" y="181.44" width="13.77" height="11.72" fill="#e6f1fa"/>
<rect x="447.62" y="181.44" width="13.77" height="11.72" fill="#e6f1fa"/>
<rect x="461.34" y="181.44" width="13.77" height="11.72" fill="#e6f1fa"/>
<rect x="475.06" y="181.44" width="13.77" height="11.72" fill="#e6f1fa"/>
<rect x="488.78" y="181.44" width="13.77" height="11.72" fill="#e6f1fa"/>
<rect x="365.30" y="193.11" width="13.77" height="11.72" fill="#e6f1fa"/>
<rect x="379.02" y="193.11" width="13.77" height="11.72" fill="#e6f1fa"/>
<rect x="392.74" y="193.11" width="13.77" height="11.72" fill="#e6f1fa"/>
<rect x="406.46" y="193.11" width="13.77" height="11.72" fill="#0a78c0"/>
<rect x="420.18" y="193.11" width="13.77" height="11.72" fill="#cee4f4"/>
<rect x="433.90" y="193.11" width="13.77" height="11.72" fill="#e6f1fa"/>
<rect x="447.62" y="193.11" width="13.77" height="11.72" fill="#e6f1fa"/>
<rect x="461.34" y="193.11" width="13.77" height="11.72" fill="#e6f1fa"/>
<rect x="475.06" y="193.11" width="13.77" height="11.72" fill="#e6f1fa"/>
<rect x="488.78" y="193.11" width="13.77" height="11.72" fill="#e6f1fa"/>
<rect x="365.30" y="204.78" width="13.77" height="11.72" fill="#e6f1fa"/>
<rect x="379.02" y="204.78" width="13.77" height="11.72" fill="#e6f1fa"/>
<rect x="392.74" y="204.78" width="13.77" height="11.72" fill="#e6f1fa"/>
<rect x="406.46" y="204.78" width="13.77" height="11.72" fill="#e6f1fa"/>
<rect x="420.18" y="204.78" width="13.77" height="11.72" fill="#0072bd"/>
<rect x="433.90" y="204.78" width="13.77" height="11.72" fill="#e6f1fa"/>
<rect x="447.62" y="204.78" width="13.77" height="11.72" fill="#e6f1fa"/>
<rect x="461.34" y="204.78" width="13.77" height="11.72" fill="#e6f1fa"/>
<rect x="475.06" y="204.78" width="13.77" height="11.72" fill="#e6f1fa"/>
<rect x="488.78" y="204.78" width="13.77" height="11.72" fill="#e6f1fa"/>
<rect x="365.30" y="216.45" width="13.77" height="11.72" fill="#e6f1fa"/>
<rect x="379.02" y="216.45" width="13.77" height="11.72" fill="#e6f1fa"/>
<rect x="392.74" y="216.45" width="13.77" height="11.72" fill="#e6f1fa"/>
<rect x="406.46" y="216.45" width="13.77" height="11.72" fill="#e6f1fa"/>
<rect x="420.18" y="216.45" width="13.77" height="11.72" fill="#cee4f4"/>
<rect x="433.90" y="216.45" width="13.77" height="11.72" fill="#0a78c0"/>
<rect x="447.62" y="216.45" width="13.77" height="11.72" fill="#e6f1fa"/>
<rect x="461.34" y="216.45" width="13.77" height="11.72" fill="#e6f1fa"/>
<rect x="475.06" y="216.45" width="13.77" height="11.72" fill="#e6f1fa"/>
<rect x="488.78" y="216.45" width="13.77" height="11.72" fill="#e6f1fa"/>
<rect x="365.30" y="228.12" width="13.77" height="11.72" fill="#e6f1fa"/>
<rect x="379.02" y="228.12" width="13.77" height="11.72" fill="#e6f1fa"/>
<rect x="392.74" y="228.12" width="13.77" height="11.72" fill="#e6f1fa"/>
<rect x="406.46" y="228.12" width="13.77" height="11.72" fill="#e6f1fa"/>
<rect x="420.18" y="228.12" width="13.77" height="11.72" fill="#e6f1fa"/>
<rect x="433.90" y="228.12" width="13.77" height="11.72" fill="#e6f1fa"/>
<rect x="447.62" y="228.12" width="13.77" height="11.72" fill="#0072bd"/>
<rect x="461.34" y="228.12" width="13.77" height="11.72" fill="#e6f1fa"/>
<rect x="475.06" y="228.12" width="13.77" height="11.72" fill="#e6f1fa"/>
<rect x="488.78" y="228.12" width="13.77" height="11.72" fill="#e6f1fa"/>
<rect x="365.30" y="239.79" width="13.77" height="11.72" fill="#e6f1fa"/>
<rect x="379.02" y="239.79" width="13.77" height="11.72" fill="#e6f1fa"/>
<rect x="392.74" y="239.79" width="13.77" height="11.72" fill="#e6f1fa"/>
<rect x="406.46" y="239.79" width="13.77" height="11.72" fill="#e6f1fa"/>
<rect x="420.18" y="239.79" width="13.77" height="11.72" fill="#e6f1fa"/>
<rect x="433.90" y="239.79" width="13.77" height="11.72" fill="#e6f1fa"/>
<rect x="447.62" y="239.79" width="13.77" height="11.72" fill="#e6f1fa"/>
<rect x="461.34" y="239.79" width="13.77" height="11.72" fill="#0072bd"/>
<rect x="475.06" y="239.79" width="13.77" height="11.72" fill="#e6f1fa"/>
<rect x="488.78" y="239.79" width="13.77" height="11.72" fill="#e6f1fa"/>
<rect x="365.30" y="251.46" width="13.77" height="11.72" fill="#e6f1fa"/>
<rect x="379.02" y="251.46" width="13.77" height="11.72" fill="#e6f1fa"/>
<rect x="392.74" y="251.46" width="13.77" height="11.72" fill="#e6f1fa"/>
<rect x="406.46" y="251.46" width="13.77" height="11.72" fill="#e6f1fa"/>
<rect x="420.18" y="251.46" width="13.77" height="11.72" fill="#e6f1fa"/>
<rect x="433.90" y="251.46" width="13.77" height="11.72" fill="#e6f1fa"/>
<rect x="447.62" y="251.46" width="13.77" height="11.72" fill="#e6f1fa"/>
<rect x="461.34" y="251.46" width="13.77" height="11.72" fill="#cee4f4"/>
<rect x="475.06" y="251.46" width="13.77" height="11.72" fill="#0a78c0"/>
<rect x="488.78" y="251.46" width="13.77" height="11.72" fill="#e6f1fa"/>
<rect x="365.30" y="263.13" width="13.77" height="11.72" fill="#e6f1fa"/>
<rect x="379.02" y="263.13" width="13.77" height="11.72" fill="#e6f1fa"/>
<rect x="392.74" y="263.13" width="13.77" height="11.72" fill="#e6f1fa"/>
<rect x="406.46" y="263.13" width="13.77" height="11.72" fill="#e6f1fa"/>
<rect x="420.18" y="263.13" width="13.77" height="11.72" fill="#e6f1fa"/>
<rect x="433.90" y="263.13" width="13.77" height="11.72" fill="#e6f1fa"/>
<rect x="447.62" y="263.13" width="13.77" height="11.72" fill="#e6f1fa"/>
<rect x="461.34" y="263.13" width="13.77" height="11.72" fill="#e6f1fa"/>
<rect x="475.06" y="263.13" width="13.77" height="11.72" fill="#cee4f4"/>
<rect x="488.78" y="263.13" width="13.77" height="11.72" fill="#0a78c0"/>
<path d="M365.30 158.10V274.80M365.30 158.10H502.50M379.02 158.10V274.80M365.30 169.77H502.50M392.74 158.10V274.80M365.30 181.44H502.50M406.46 158.10V274.80M365.30 193.11H502.50M420.18 158.10V274.80M365.30 204.78H502.50M433.90 158.10V274.80M365.30 216.45H502.50M447.62 158.10V274.80M365.30 228.12H502.50M461.34 158.10V274.80M365.30 239.79H502.50M475.06 158.10V274.80M365.30 251.46H502.50M488.78 158.10V274.80M365.30 263.13H502.50M502.50 158.10V274.80M365.30 274.80H502.50" stroke="#3c4852" stroke-width="0.36" fill="none"/>
<text x="372.16" y="165.55" font-size="4.5" text-anchor="middle" fill="#62baec" stroke="#62baec" stroke-width="0.12">8</text>
<text x="385.88" y="165.55" font-size="4.5" text-anchor="middle" fill="#555555" stroke="#555555" stroke-width="0.12">2</text>
<text x="399.60" y="165.55" font-size="4.5" text-anchor="middle" fill="#555555" stroke="#555555" stroke-width="0.12">0</text>
<text x="413.32" y="165.55" font-size="4.5" text-anchor="middle" fill="#555555" stroke="#555555" stroke-width="0.12">0</text>
<text x="427.04" y="165.55" font-size="4.5" text-anchor="middle" fill="#555555" stroke="#555555" stroke-width="0.12">0</text>
<text x="440.76" y="165.55" font-size="4.5" text-anchor="middle" fill="#555555" stroke="#555555" stroke-width="0.12">0</text>
<text x="454.48" y="165.55" font-size="4.5" text-anchor="middle" fill="#555555" stroke="#555555" stroke-width="0.12">0</text>
<text x="468.20" y="165.55" font-size="4.5" text-anchor="middle" fill="#555555" stroke="#555555" stroke-width="0.12">0</text>
<text x="481.92" y="165.55" font-size="4.5" text-anchor="middle" fill="#555555" stroke="#555555" stroke-width="0.12">0</text>
<text x="495.64" y="165.55" font-size="4.5" text-anchor="middle" fill="#555555" stroke="#555555" stroke-width="0.12">0</text>
<text x="372.16" y="177.22" font-size="4.5" text-anchor="middle" fill="#555555" stroke="#555555" stroke-width="0.12">0</text>
<text x="385.88" y="177.22" font-size="4.5" text-anchor="middle" fill="#62baec" stroke="#62baec" stroke-width="0.12">9</text>
<text x="399.60" y="177.22" font-size="4.5" text-anchor="middle" fill="#555555" stroke="#555555" stroke-width="0.12">0</text>
<text x="413.32" y="177.22" font-size="4.5" text-anchor="middle" fill="#555555" stroke="#555555" stroke-width="0.12">1</text>
<text x="427.04" y="177.22" font-size="4.5" text-anchor="middle" fill="#555555" stroke="#555555" stroke-width="0.12">0</text>
<text x="440.76" y="177.22" font-size="4.5" text-anchor="middle" fill="#555555" stroke="#555555" stroke-width="0.12">0</text>
<text x="454.48" y="177.22" font-size="4.5" text-anchor="middle" fill="#555555" stroke="#555555" stroke-width="0.12">0</text>
<text x="468.20" y="177.22" font-size="4.5" text-anchor="middle" fill="#555555" stroke="#555555" stroke-width="0.12">0</text>
<text x="481.92" y="177.22" font-size="4.5" text-anchor="middle" fill="#555555" stroke="#555555" stroke-width="0.12">0</text>
<text x="495.64" y="177.22" font-size="4.5" text-anchor="middle" fill="#555555" stroke="#555555" stroke-width="0.12">0</text>
<text x="372.16" y="188.89" font-size="4.5" text-anchor="middle" fill="#555555" stroke="#555555" stroke-width="0.12">0</text>
<text x="385.88" y="188.89" font-size="4.5" text-anchor="middle" fill="#555555" stroke="#555555" stroke-width="0.12">1</text>
<text x="399.60" y="188.89" font-size="4.5" text-anchor="middle" fill="#555555" stroke="#555555" stroke-width="0.12">7</text>
<text x="413.32" y="188.89" font-size="4.5" text-anchor="middle" fill="#555555" stroke="#555555" stroke-width="0.12">2</text>
<text x="427.04" y="188.89" font-size="4.5" text-anchor="middle" fill="#555555" stroke="#555555" stroke-width="0.12">0</text>
<text x="440.76" y="188.89" font-size="4.5" text-anchor="middle" fill="#555555" stroke="#555555" stroke-width="0.12">0</text>
<text x="454.48" y="188.89" font-size="4.5" text-anchor="middle" fill="#555555" stroke="#555555" stroke-width="0.12">0</text>
<text x="468.20" y="188.89" font-size="4.5" text-anchor="middle" fill="#555555" stroke="#555555" stroke-width="0.12">0</text>
<text x="481.92" y="188.89" font-size="4.5" text-anchor="middle" fill="#555555" stroke="#555555" stroke-width="0.12">0</text>
<text x="495.64" y="188.89" font-size="4.5" text-anchor="middle" fill="#555555" stroke="#555555" stroke-width="0.12">0</text>
<text x="372.16" y="200.56" font-size="4.5" text-anchor="middle" fill="#555555" stroke="#555555" stroke-width="0.12">0</text>
<text x="385.88" y="200.56" font-size="4.5" text-anchor="middle" fill="#555555" stroke="#555555" stroke-width="0.12">0</text>
<text x="399.60" y="200.56" font-size="4.5" text-anchor="middle" fill="#555555" stroke="#555555" stroke-width="0.12">0</text>
<text x="413.32" y="200.56" font-size="4.5" text-anchor="middle" fill="#62baec" stroke="#62baec" stroke-width="0.12">9</text>
<text x="427.04" y="200.56" font-size="4.5" text-anchor="middle" fill="#555555" stroke="#555555" stroke-width="0.12">1</text>
<text x="440.76" y="200.56" font-size="4.5" text-anchor="middle" fill="#555555" stroke="#555555" stroke-width="0.12">0</text>
<text x="454.48" y="200.56" font-size="4.5" text-anchor="middle" fill="#555555" stroke="#555555" stroke-width="0.12">0</text>
<text x="468.20" y="200.56" font-size="4.5" text-anchor="middle" fill="#555555" stroke="#555555" stroke-width="0.12">0</text>
<text x="481.92" y="200.56" font-size="4.5" text-anchor="middle" fill="#555555" stroke="#555555" stroke-width="0.12">0</text>
<text x="495.64" y="200.56" font-size="4.5" text-anchor="middle" fill="#555555" stroke="#555555" stroke-width="0.12">0</text>
<text x="372.16" y="212.23" font-size="4.5" text-anchor="middle" fill="#555555" stroke="#555555" stroke-width="0.12">0</text>
<text x="385.88" y="212.23" font-size="4.5" text-anchor="middle" fill="#555555" stroke="#555555" stroke-width="0.12">0</text>
<text x="399.60" y="212.23" font-size="4.5" text-anchor="middle" fill="#555555" stroke="#555555" stroke-width="0.12">0</text>
<text x="413.32" y="212.23" font-size="4.5" text-anchor="middle" fill="#555555" stroke="#555555" stroke-width="0.12">0</text>
<text x="427.04" y="212.23" font-size="4.5" text-anchor="middle" fill="#62baec" stroke="#62baec" stroke-width="0.12">10</text>
<text x="440.76" y="212.23" font-size="4.5" text-anchor="middle" fill="#555555" stroke="#555555" stroke-width="0.12">0</text>
<text x="454.48" y="212.23" font-size="4.5" text-anchor="middle" fill="#555555" stroke="#555555" stroke-width="0.12">0</text>
<text x="468.20" y="212.23" font-size="4.5" text-anchor="middle" fill="#555555" stroke="#555555" stroke-width="0.12">0</text>
<text x="481.92" y="212.23" font-size="4.5" text-anchor="middle" fill="#555555" stroke="#555555" stroke-width="0.12">0</text>
<text x="495.64" y="212.23" font-size="4.5" text-anchor="middle" fill="#555555" stroke="#555555" stroke-width="0.12">0</text>
<text x="372.16" y="223.90" font-size="4.5" text-anchor="middle" fill="#555555" stroke="#555555" stroke-width="0.12">0</text>
<text x="385.88" y="223.90" font-size="4.5" text-anchor="middle" fill="#555555" stroke="#555555" stroke-width="0.12">0</text>
<text x="399.60" y="223.90" font-size="4.5" text-anchor="middle" fill="#555555" stroke="#555555" stroke-width="0.12">0</text>
<text x="413.32" y="223.90" font-size="4.5" text-anchor="middle" fill="#555555" stroke="#555555" stroke-width="0.12">0</text>
<text x="427.04" y="223.90" font-size="4.5" text-anchor="middle" fill="#555555" stroke="#555555" stroke-width="0.12">1</text>
<text x="440.76" y="223.90" font-size="4.5" text-anchor="middle" fill="#62baec" stroke="#62baec" stroke-width="0.12">9</text>
<text x="454.48" y="223.90" font-size="4.5" text-anchor="middle" fill="#555555" stroke="#555555" stroke-width="0.12">0</text>
<text x="468.20" y="223.90" font-size="4.5" text-anchor="middle" fill="#555555" stroke="#555555" stroke-width="0.12">0</text>
<text x="481.92" y="223.90" font-size="4.5" text-anchor="middle" fill="#555555" stroke="#555555" stroke-width="0.12">0</text>
<text x="495.64" y="223.90" font-size="4.5" text-anchor="middle" fill="#555555" stroke="#555555" stroke-width="0.12">0</text>
<text x="372.16" y="235.57" font-size="4.5" text-anchor="middle" fill="#555555" stroke="#555555" stroke-width="0.12">0</text>
<text x="385.88" y="235.57" font-size="4.5" text-anchor="middle" fill="#555555" stroke="#555555" stroke-width="0.12">0</text>
<text x="399.60" y="235.57" font-size="4.5" text-anchor="middle" fill="#555555" stroke="#555555" stroke-width="0.12">0</text>
<text x="413.32" y="235.57" font-size="4.5" text-anchor="middle" fill="#555555" stroke="#555555" stroke-width="0.12">0</text>
<text x="427.04" y="235.57" font-size="4.5" text-anchor="middle" fill="#555555" stroke="#555555" stroke-width="0.12">0</text>
<text x="440.76" y="235.57" font-size="4.5" text-anchor="middle" fill="#555555" stroke="#555555" stroke-width="0.12">0</text>
<text x="454.48" y="235.57" font-size="4.5" text-anchor="middle" fill="#62baec" stroke="#62baec" stroke-width="0.12">10</text>
<text x="468.20" y="235.57" font-size="4.5" text-anchor="middle" fill="#555555" stroke="#555555" stroke-width="0.12">0</text>
<text x="481.92" y="235.57" font-size="4.5" text-anchor="middle" fill="#555555" stroke="#555555" stroke-width="0.12">0</text>
<text x="495.64" y="235.57" font-size="4.5" text-anchor="middle" fill="#555555" stroke="#555555" stroke-width="0.12">0</text>
<text x="372.16" y="247.24" font-size="4.5" text-anchor="middle" fill="#555555" stroke="#555555" stroke-width="0.12">0</text>
<text x="385.88" y="247.24" font-size="4.5" text-anchor="middle" fill="#555555" stroke="#555555" stroke-width="0.12">0</text>
<text x="399.60" y="247.24" font-size="4.5" text-anchor="middle" fill="#555555" stroke="#555555" stroke-width="0.12">0</text>
<text x="413.32" y="247.24" font-size="4.5" text-anchor="middle" fill="#555555" stroke="#555555" stroke-width="0.12">0</text>
<text x="427.04" y="247.24" font-size="4.5" text-anchor="middle" fill="#555555" stroke="#555555" stroke-width="0.12">0</text>
<text x="440.76" y="247.24" font-size="4.5" text-anchor="middle" fill="#555555" stroke="#555555" stroke-width="0.12">0</text>
<text x="454.48" y="247.24" font-size="4.5" text-anchor="middle" fill="#555555" stroke="#555555" stroke-width="0.12">0</text>
<text x="468.20" y="247.24" font-size="4.5" text-anchor="middle" fill="#62baec" stroke="#62baec" stroke-width="0.12">10</text>
<text x="481.92" y="247.24" font-size="4.5" text-anchor="middle" fill="#555555" stroke="#555555" stroke-width="0.12">0</text>
<text x="495.64" y="247.24" font-size="4.5" text-anchor="middle" fill="#555555" stroke="#555555" stroke-width="0.12">0</text>
<text x="372.16" y="258.91" font-size="4.5" text-anchor="middle" fill="#555555" stroke="#555555" stroke-width="0.12">0</text>
<text x="385.88" y="258.91" font-size="4.5" text-anchor="middle" fill="#555555" stroke="#555555" stroke-width="0.12">0</text>
<text x="399.60" y="258.91" font-size="4.5" text-anchor="middle" fill="#555555" stroke="#555555" stroke-width="0.12">0</text>
<text x="413.32" y="258.91" font-size="4.5" text-anchor="middle" fill="#555555" stroke="#555555" stroke-width="0.12">0</text>
<text x="427.04" y="258.91" font-size="4.5" text-anchor="middle" fill="#555555" stroke="#555555" stroke-width="0.12">0</text>
<text x="440.76" y="258.91" font-size="4.5" text-anchor="middle" fill="#555555" stroke="#555555" stroke-width="0.12">0</text>
<text x="454.48" y="258.91" font-size="4.5" text-anchor="middle" fill="#555555" stroke="#555555" stroke-width="0.12">0</text>
<text x="468.20" y="258.91" font-size="4.5" text-anchor="middle" fill="#555555" stroke="#555555" stroke-width="0.12">1</text>
<text x="481.92" y="258.91" font-size="4.5" text-anchor="middle" fill="#62baec" stroke="#62baec" stroke-width="0.12">9</text>
<text x="495.64" y="258.91" font-size="4.5" text-anchor="middle" fill="#555555" stroke="#555555" stroke-width="0.12">0</text>
<text x="372.16" y="270.58" font-size="4.5" text-anchor="middle" fill="#555555" stroke="#555555" stroke-width="0.12">0</text>
<text x="385.88" y="270.58" font-size="4.5" text-anchor="middle" fill="#555555" stroke="#555555" stroke-width="0.12">0</text>
<text x="399.60" y="270.58" font-size="4.5" text-anchor="middle" fill="#555555" stroke="#555555" stroke-width="0.12">0</text>
<text x="413.32" y="270.58" font-size="4.5" text-anchor="middle" fill="#555555" stroke="#555555" stroke-width="0.12">0</text>
<text x="427.04" y="270.58" font-size="4.5" text-anchor="middle" fill="#555555" stroke="#555555" stroke-width="0.12">0</text>
<text x="440.76" y="270.58" font-size="4.5" text-anchor="middle" fill="#555555" stroke="#555555" stroke-width="0.12">0</text>
<text x="454.48" y="270.58" font-size="4.5" text-anchor="middle" fill="#555555" stroke="#555555" stroke-width="0.12">0</text>
<text x="468.20" y="270.58" font-size="4.5" text-anchor="middle" fill="#555555" stroke="#555555" stroke-width="0.12">0</text>
<text x="481.92" y="270.58" font-size="4.5" text-anchor="middle" fill="#555555" stroke="#555555" stroke-width="0.12">1</text>
<text x="495.64" y="270.58" font-size="4.5" text-anchor="middle" fill="#62baec" stroke="#62baec" stroke-width="0.12">9</text>
<text x="362.80" y="165.25" font-size="6.2" text-anchor="end" fill="#1a1a1a" stroke="#1a1a1a" stroke-width="0.12">2.1</text>
<text x="362.80" y="188.81" font-size="6.2" text-anchor="end" fill="#1a1a1a" stroke="#1a1a1a" stroke-width="0.12">2.3</text>
<text x="362.80" y="212.37" font-size="6.2" text-anchor="end" fill="#1a1a1a" stroke="#1a1a1a" stroke-width="0.12">2.5</text>
<text x="362.80" y="235.93" font-size="6.2" text-anchor="end" fill="#1a1a1a" stroke="#1a1a1a" stroke-width="0.12">2.7</text>
<text x="362.80" y="259.49" font-size="6.2" text-anchor="end" fill="#1a1a1a" stroke="#1a1a1a" stroke-width="0.12">2.9</text>
<text x="372.16" y="282.22" font-size="6.2" text-anchor="middle" fill="#1a1a1a" stroke="#1a1a1a" stroke-width="0.12">2.1</text>
<text x="399.60" y="282.22" font-size="6.2" text-anchor="middle" fill="#1a1a1a" stroke="#1a1a1a" stroke-width="0.12">2.3</text>
<text x="427.04" y="282.22" font-size="6.2" text-anchor="middle" fill="#1a1a1a" stroke="#1a1a1a" stroke-width="0.12">2.5</text>
<text x="454.48" y="282.22" font-size="6.2" text-anchor="middle" fill="#1a1a1a" stroke="#1a1a1a" stroke-width="0.12">2.7</text>
<text x="481.92" y="282.22" font-size="6.2" text-anchor="middle" fill="#1a1a1a" stroke="#1a1a1a" stroke-width="0.12">2.9</text>
<text transform="translate(3.6 16.8) scale(0.95 1)" font-size="11.6" font-weight="bold" fill="#111" stroke="#111" stroke-width="0.3">(a)</text>
<text transform="translate(162.9 16.4) scale(0.95 1)" font-size="11.6" font-weight="bold" fill="#111" stroke="#111" stroke-width="0.3">(b)</text>
<text transform="translate(335.8 16.1) scale(0.95 1)" font-size="11.6" font-weight="bold" fill="#111" stroke="#111" stroke-width="0.3">(c)</text>
<text transform="translate(9.8 158.2) scale(0.95 1)" font-size="11.6" font-weight="bold" fill="#111" stroke="#111" stroke-width="0.3">(d)</text>
<text transform="translate(175.7 159.4) scale(0.95 1)" font-size="11.6" font-weight="bold" fill="#111" stroke="#111" stroke-width="0.3">(e)</text>
<text transform="translate(350.4 157.1) scale(0.95 1)" font-size="11.6" font-weight="bold" fill="#111" stroke="#111" stroke-width="0.3">(f)</text>
</svg>
</body></html>
